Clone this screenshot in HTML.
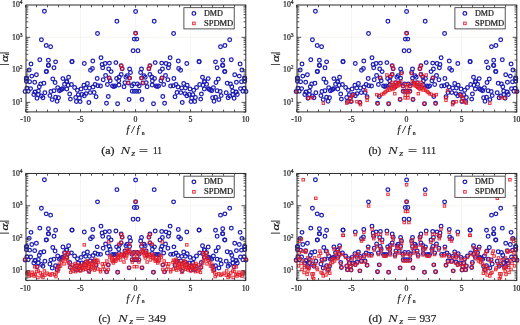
<!DOCTYPE html>
<html><head><meta charset="utf-8"><title>DMD vs SPDMD amplitudes</title>
<style>html,body{margin:0;padding:0;background:#fff}svg{display:block}text{font-family:"Liberation Serif","DejaVu Serif",serif;fill:#1c1c1c;stroke:#1c1c1c;stroke-width:.22px}.g line{stroke:#f0f0ec;stroke-width:.7px}.t line{stroke:#2a2a2a;stroke-width:.8px}.c circle{fill:none;stroke:#1e1eb4;stroke-width:1.25px}.s rect{fill:#f8a0b0;fill-opacity:.25;stroke:#de101c;stroke-opacity:.85;stroke-width:.95px}.f{fill:none;stroke:#2a2a2a;stroke-width:1px}.tk{font-size:7.8px}.sup{font-size:5.6px}.lg{font-size:7.6px}.xl{font-size:9.6px;font-style:italic}.yl{font-size:10px}.cap{font-size:11.3px}i,.i{font-style:italic}</style></head><body>
<svg width="520" height="325" viewBox="0 0 520 325">
<rect width="520" height="325" fill="#fff"/>
<g id="panel-a">
<g class="g">
<line x1="80.53" y1="4.8" x2="80.53" y2="112.15"/>
<line x1="135.55" y1="4.8" x2="135.55" y2="112.15"/>
<line x1="190.57" y1="4.8" x2="190.57" y2="112.15"/>
<line x1="25.5" y1="102.36" x2="245.6" y2="102.36"/>
<line x1="25.5" y1="69.84" x2="245.6" y2="69.84"/>
<line x1="25.5" y1="37.32" x2="245.6" y2="37.32"/>
</g>
<g class="c">
<circle cx="135.6" cy="11.5" r="1.85"/><circle cx="135.6" cy="33.3" r="1.85"/><circle cx="136.8" cy="39.1" r="1.85"/><circle cx="138" cy="50.8" r="1.85"/><circle cx="154.2" cy="21.2" r="1.85"/><circle cx="173.6" cy="33.4" r="1.85"/><circle cx="229.7" cy="39.8" r="1.85"/><circle cx="224.9" cy="45.4" r="1.85"/><circle cx="220.5" cy="46.7" r="1.85"/><circle cx="226.7" cy="11.25" r="1.85"/><circle cx="170.1" cy="57.7" r="1.85"/><circle cx="178.3" cy="61" r="1.85"/><circle cx="186.8" cy="63.5" r="1.85"/><circle cx="155.2" cy="62.6" r="1.85"/><circle cx="161.7" cy="63.1" r="1.85"/><circle cx="166" cy="63.4" r="1.85"/><circle cx="169" cy="64.5" r="1.85"/><circle cx="168.4" cy="67.8" r="1.85"/><circle cx="162.4" cy="69" r="1.85"/><circle cx="160" cy="71.6" r="1.85"/><circle cx="178.7" cy="68.5" r="1.85"/><circle cx="180.6" cy="70.3" r="1.85"/><circle cx="149.9" cy="65.6" r="1.85"/><circle cx="148.9" cy="68.8" r="1.85"/><circle cx="141.5" cy="69" r="1.85"/><circle cx="140.6" cy="72.5" r="1.85"/><circle cx="143.9" cy="75.8" r="1.85"/><circle cx="145.2" cy="77.2" r="1.85"/><circle cx="141.5" cy="78.1" r="1.85"/><circle cx="149.9" cy="74.5" r="1.85"/><circle cx="151.8" cy="76.9" r="1.85"/><circle cx="154.5" cy="78.4" r="1.85"/><circle cx="152.4" cy="80.8" r="1.85"/><circle cx="165.5" cy="75.5" r="1.85"/><circle cx="161.9" cy="78" r="1.85"/><circle cx="160.9" cy="80.8" r="1.85"/><circle cx="167.9" cy="79.8" r="1.85"/><circle cx="173.9" cy="78.4" r="1.85"/><circle cx="163.7" cy="84.5" r="1.85"/><circle cx="156" cy="86" r="1.85"/><circle cx="157.3" cy="86.4" r="1.85"/><circle cx="158.6" cy="86" r="1.85"/><circle cx="147.1" cy="86.8" r="1.85"/><circle cx="146.2" cy="82.6" r="1.85"/><circle cx="142.9" cy="82.9" r="1.85"/><circle cx="137.4" cy="84" r="1.85"/><circle cx="139.2" cy="85.8" r="1.85"/><circle cx="136.7" cy="91.3" r="1.85"/><circle cx="138.9" cy="91.3" r="1.85"/><circle cx="142" cy="99.4" r="1.85"/><circle cx="153.5" cy="103.7" r="1.85"/><circle cx="164.6" cy="103.2" r="1.85"/><circle cx="162.8" cy="96.4" r="1.85"/><circle cx="175" cy="96.8" r="1.85"/><circle cx="177" cy="92.5" r="1.85"/><circle cx="170.6" cy="85.9" r="1.85"/><circle cx="173.2" cy="85.8" r="1.85"/><circle cx="176" cy="84.5" r="1.85"/><circle cx="152.2" cy="84.9" r="1.85"/><circle cx="199" cy="61.5" r="1.85"/><circle cx="199.2" cy="61.7" r="1.85"/><circle cx="215.5" cy="61.85" r="1.85"/><circle cx="217.1" cy="67.8" r="1.85"/><circle cx="202.5" cy="77.25" r="1.85"/><circle cx="208.2" cy="78.6" r="1.85"/><circle cx="204.3" cy="81.4" r="1.85"/><circle cx="204.6" cy="81.6" r="1.85"/><circle cx="218.3" cy="79" r="1.85"/><circle cx="216" cy="82.5" r="1.85"/><circle cx="183.7" cy="83.5" r="1.85"/><circle cx="199.7" cy="84.4" r="1.85"/><circle cx="206.6" cy="84.2" r="1.85"/><circle cx="202.9" cy="85.2" r="1.85"/><circle cx="196.5" cy="87.5" r="1.85"/><circle cx="178" cy="87" r="1.85"/><circle cx="187.2" cy="85.2" r="1.85"/><circle cx="181.7" cy="87.9" r="1.85"/><circle cx="185.4" cy="87.9" r="1.85"/><circle cx="190" cy="88.9" r="1.85"/><circle cx="193.7" cy="90.2" r="1.85"/><circle cx="180.8" cy="92.6" r="1.85"/><circle cx="185" cy="93.6" r="1.85"/><circle cx="189.1" cy="94.4" r="1.85"/><circle cx="192.8" cy="94.6" r="1.85"/><circle cx="186.8" cy="95.8" r="1.85"/><circle cx="191.7" cy="98" r="1.85"/><circle cx="195.4" cy="97.5" r="1.85"/><circle cx="191" cy="101.6" r="1.85"/><circle cx="194.7" cy="101.4" r="1.85"/><circle cx="182.25" cy="102.4" r="1.85"/><circle cx="201.4" cy="94" r="1.85"/><circle cx="200.7" cy="99.1" r="1.85"/><circle cx="204.3" cy="88.9" r="1.85"/><circle cx="208.4" cy="88.7" r="1.85"/><circle cx="209.3" cy="89.2" r="1.85"/><circle cx="210.5" cy="90" r="1.85"/><circle cx="211.7" cy="90.7" r="1.85"/><circle cx="213.4" cy="87.6" r="1.85"/><circle cx="217.1" cy="90.7" r="1.85"/><circle cx="212.6" cy="97.7" r="1.85"/><circle cx="215.5" cy="97.2" r="1.85"/><circle cx="214" cy="101.3" r="1.85"/><circle cx="218.9" cy="99.6" r="1.85"/><circle cx="220.2" cy="91.4" r="1.85"/><circle cx="221.2" cy="95.6" r="1.85"/><circle cx="222.7" cy="60.3" r="1.85"/><circle cx="231.3" cy="59.7" r="1.85"/><circle cx="240.1" cy="63.9" r="1.85"/><circle cx="222.5" cy="65.2" r="1.85"/><circle cx="222.8" cy="65.4" r="1.85"/><circle cx="224.6" cy="71.4" r="1.85"/><circle cx="224.9" cy="71.6" r="1.85"/><circle cx="241.9" cy="69.9" r="1.85"/><circle cx="234.7" cy="74.75" r="1.85"/><circle cx="239.3" cy="76.1" r="1.85"/><circle cx="244.5" cy="78" r="1.85"/><circle cx="244.8" cy="78.4" r="1.85"/><circle cx="227.2" cy="83.3" r="1.85"/><circle cx="230.4" cy="84" r="1.85"/><circle cx="231.8" cy="86.8" r="1.85"/><circle cx="236.4" cy="82.2" r="1.85"/><circle cx="241.5" cy="81.7" r="1.85"/><circle cx="244.7" cy="81.2" r="1.85"/><circle cx="240.5" cy="88.6" r="1.85"/><circle cx="244.2" cy="88.2" r="1.85"/><circle cx="242.9" cy="91.3" r="1.85"/><circle cx="246" cy="91.5" r="1.85"/><circle cx="226.2" cy="92.7" r="1.85"/><circle cx="232.7" cy="90.9" r="1.85"/><circle cx="235.9" cy="91.9" r="1.85"/><circle cx="236.2" cy="92.1" r="1.85"/><circle cx="232.7" cy="94.55" r="1.85"/><circle cx="237.3" cy="94.55" r="1.85"/><circle cx="229.7" cy="96" r="1.85"/><circle cx="228.1" cy="97.7" r="1.85"/><circle cx="234.1" cy="98.25" r="1.85"/><circle cx="134.3" cy="39.1" r="1.85"/><circle cx="133.1" cy="50.8" r="1.85"/><circle cx="116.9" cy="21.2" r="1.85"/><circle cx="97.5" cy="33.4" r="1.85"/><circle cx="41.4" cy="39.8" r="1.85"/><circle cx="46.2" cy="45.4" r="1.85"/><circle cx="50.6" cy="46.7" r="1.85"/><circle cx="44.4" cy="11.25" r="1.85"/><circle cx="101" cy="57.7" r="1.85"/><circle cx="92.8" cy="61" r="1.85"/><circle cx="84.3" cy="63.5" r="1.85"/><circle cx="115.9" cy="62.6" r="1.85"/><circle cx="109.4" cy="63.1" r="1.85"/><circle cx="105.1" cy="63.4" r="1.85"/><circle cx="102.1" cy="64.5" r="1.85"/><circle cx="102.7" cy="67.8" r="1.85"/><circle cx="108.7" cy="69" r="1.85"/><circle cx="111.1" cy="71.6" r="1.85"/><circle cx="92.4" cy="68.5" r="1.85"/><circle cx="90.5" cy="70.3" r="1.85"/><circle cx="121.2" cy="65.6" r="1.85"/><circle cx="122.2" cy="68.8" r="1.85"/><circle cx="129.6" cy="69" r="1.85"/><circle cx="130.5" cy="72.5" r="1.85"/><circle cx="127.2" cy="75.8" r="1.85"/><circle cx="125.9" cy="77.2" r="1.85"/><circle cx="129.6" cy="78.1" r="1.85"/><circle cx="121.2" cy="74.5" r="1.85"/><circle cx="119.3" cy="76.9" r="1.85"/><circle cx="116.6" cy="78.4" r="1.85"/><circle cx="118.7" cy="80.8" r="1.85"/><circle cx="105.6" cy="75.5" r="1.85"/><circle cx="109.2" cy="78" r="1.85"/><circle cx="110.2" cy="80.8" r="1.85"/><circle cx="103.2" cy="79.8" r="1.85"/><circle cx="97.2" cy="78.4" r="1.85"/><circle cx="107.4" cy="84.5" r="1.85"/><circle cx="115.1" cy="86" r="1.85"/><circle cx="113.8" cy="86.4" r="1.85"/><circle cx="112.5" cy="86" r="1.85"/><circle cx="124" cy="86.8" r="1.85"/><circle cx="124.9" cy="82.6" r="1.85"/><circle cx="128.2" cy="82.9" r="1.85"/><circle cx="133.7" cy="84" r="1.85"/><circle cx="131.9" cy="85.8" r="1.85"/><circle cx="134.4" cy="91.3" r="1.85"/><circle cx="132.2" cy="91.3" r="1.85"/><circle cx="129.1" cy="99.4" r="1.85"/><circle cx="117.6" cy="103.7" r="1.85"/><circle cx="106.5" cy="103.2" r="1.85"/><circle cx="108.3" cy="96.4" r="1.85"/><circle cx="96.1" cy="96.8" r="1.85"/><circle cx="94.1" cy="92.5" r="1.85"/><circle cx="100.5" cy="85.9" r="1.85"/><circle cx="97.9" cy="85.8" r="1.85"/><circle cx="95.1" cy="84.5" r="1.85"/><circle cx="118.9" cy="84.9" r="1.85"/><circle cx="72.1" cy="61.5" r="1.85"/><circle cx="71.9" cy="61.7" r="1.85"/><circle cx="55.6" cy="61.85" r="1.85"/><circle cx="54" cy="67.8" r="1.85"/><circle cx="68.6" cy="77.25" r="1.85"/><circle cx="62.9" cy="78.6" r="1.85"/><circle cx="66.8" cy="81.4" r="1.85"/><circle cx="66.5" cy="81.6" r="1.85"/><circle cx="52.8" cy="79" r="1.85"/><circle cx="55.1" cy="82.5" r="1.85"/><circle cx="87.4" cy="83.5" r="1.85"/><circle cx="71.4" cy="84.4" r="1.85"/><circle cx="64.5" cy="84.2" r="1.85"/><circle cx="68.2" cy="85.2" r="1.85"/><circle cx="74.6" cy="87.5" r="1.85"/><circle cx="93.1" cy="87" r="1.85"/><circle cx="83.9" cy="85.2" r="1.85"/><circle cx="89.4" cy="87.9" r="1.85"/><circle cx="85.7" cy="87.9" r="1.85"/><circle cx="81.1" cy="88.9" r="1.85"/><circle cx="77.4" cy="90.2" r="1.85"/><circle cx="90.3" cy="92.6" r="1.85"/><circle cx="86.1" cy="93.6" r="1.85"/><circle cx="82" cy="94.4" r="1.85"/><circle cx="78.3" cy="94.6" r="1.85"/><circle cx="84.3" cy="95.8" r="1.85"/><circle cx="79.4" cy="98" r="1.85"/><circle cx="75.7" cy="97.5" r="1.85"/><circle cx="80.1" cy="101.6" r="1.85"/><circle cx="76.4" cy="101.4" r="1.85"/><circle cx="88.85" cy="102.4" r="1.85"/><circle cx="69.7" cy="94" r="1.85"/><circle cx="70.4" cy="99.1" r="1.85"/><circle cx="66.8" cy="88.9" r="1.85"/><circle cx="62.7" cy="88.7" r="1.85"/><circle cx="61.8" cy="89.2" r="1.85"/><circle cx="60.6" cy="90" r="1.85"/><circle cx="59.4" cy="90.7" r="1.85"/><circle cx="57.7" cy="87.6" r="1.85"/><circle cx="54" cy="90.7" r="1.85"/><circle cx="58.5" cy="97.7" r="1.85"/><circle cx="55.6" cy="97.2" r="1.85"/><circle cx="57.1" cy="101.3" r="1.85"/><circle cx="52.2" cy="99.6" r="1.85"/><circle cx="50.9" cy="91.4" r="1.85"/><circle cx="49.9" cy="95.6" r="1.85"/><circle cx="48.4" cy="60.3" r="1.85"/><circle cx="39.8" cy="59.7" r="1.85"/><circle cx="31" cy="63.9" r="1.85"/><circle cx="48.6" cy="65.2" r="1.85"/><circle cx="48.3" cy="65.4" r="1.85"/><circle cx="46.5" cy="71.4" r="1.85"/><circle cx="46.2" cy="71.6" r="1.85"/><circle cx="29.2" cy="69.9" r="1.85"/><circle cx="36.4" cy="74.75" r="1.85"/><circle cx="31.8" cy="76.1" r="1.85"/><circle cx="26.6" cy="78" r="1.85"/><circle cx="26.3" cy="78.4" r="1.85"/><circle cx="43.9" cy="83.3" r="1.85"/><circle cx="40.7" cy="84" r="1.85"/><circle cx="39.3" cy="86.8" r="1.85"/><circle cx="34.7" cy="82.2" r="1.85"/><circle cx="29.6" cy="81.7" r="1.85"/><circle cx="26.4" cy="81.2" r="1.85"/><circle cx="30.6" cy="88.6" r="1.85"/><circle cx="26.9" cy="88.2" r="1.85"/><circle cx="28.2" cy="91.3" r="1.85"/><circle cx="25.1" cy="91.5" r="1.85"/><circle cx="44.9" cy="92.7" r="1.85"/><circle cx="38.4" cy="90.9" r="1.85"/><circle cx="35.2" cy="91.9" r="1.85"/><circle cx="34.9" cy="92.1" r="1.85"/><circle cx="38.4" cy="94.55" r="1.85"/><circle cx="33.8" cy="94.55" r="1.85"/><circle cx="41.4" cy="96" r="1.85"/><circle cx="43" cy="97.7" r="1.85"/><circle cx="37" cy="98.25" r="1.85"/>
</g>
<g class="s">
<rect x="134.35" y="32.05" width="2.5" height="2.5"/><rect x="148.65" y="64.35" width="2.5" height="2.5"/><rect x="147.65" y="67.55" width="2.5" height="2.5"/><rect x="140.25" y="76.85" width="2.5" height="2.5"/><rect x="160.65" y="76.75" width="2.5" height="2.5"/><rect x="141.65" y="81.65" width="2.5" height="2.5"/><rect x="119.95" y="64.35" width="2.5" height="2.5"/><rect x="120.95" y="67.55" width="2.5" height="2.5"/><rect x="128.35" y="76.85" width="2.5" height="2.5"/><rect x="107.95" y="76.75" width="2.5" height="2.5"/><rect x="126.95" y="81.65" width="2.5" height="2.5"/>
</g>
<g class="t">
<line x1="25.5" y1="111.9" x2="25.5" y2="109.2"/><line x1="25.5" y1="5" x2="25.5" y2="7.7"/>
<line x1="36.51" y1="111.9" x2="36.51" y2="109.6"/><line x1="36.51" y1="5" x2="36.51" y2="7.3"/>
<line x1="47.51" y1="111.9" x2="47.51" y2="109.6"/><line x1="47.51" y1="5" x2="47.51" y2="7.3"/>
<line x1="58.52" y1="111.9" x2="58.52" y2="109.6"/><line x1="58.52" y1="5" x2="58.52" y2="7.3"/>
<line x1="69.52" y1="111.9" x2="69.52" y2="109.6"/><line x1="69.52" y1="5" x2="69.52" y2="7.3"/>
<line x1="80.53" y1="111.9" x2="80.53" y2="109.2"/><line x1="80.53" y1="5" x2="80.53" y2="7.7"/>
<line x1="91.53" y1="111.9" x2="91.53" y2="109.6"/><line x1="91.53" y1="5" x2="91.53" y2="7.3"/>
<line x1="102.53" y1="111.9" x2="102.53" y2="109.6"/><line x1="102.53" y1="5" x2="102.53" y2="7.3"/>
<line x1="113.54" y1="111.9" x2="113.54" y2="109.6"/><line x1="113.54" y1="5" x2="113.54" y2="7.3"/>
<line x1="124.55" y1="111.9" x2="124.55" y2="109.6"/><line x1="124.55" y1="5" x2="124.55" y2="7.3"/>
<line x1="135.55" y1="111.9" x2="135.55" y2="109.2"/><line x1="135.55" y1="5" x2="135.55" y2="7.7"/>
<line x1="146.56" y1="111.9" x2="146.56" y2="109.6"/><line x1="146.56" y1="5" x2="146.56" y2="7.3"/>
<line x1="157.56" y1="111.9" x2="157.56" y2="109.6"/><line x1="157.56" y1="5" x2="157.56" y2="7.3"/>
<line x1="168.56" y1="111.9" x2="168.56" y2="109.6"/><line x1="168.56" y1="5" x2="168.56" y2="7.3"/>
<line x1="179.57" y1="111.9" x2="179.57" y2="109.6"/><line x1="179.57" y1="5" x2="179.57" y2="7.3"/>
<line x1="190.57" y1="111.9" x2="190.57" y2="109.2"/><line x1="190.57" y1="5" x2="190.57" y2="7.7"/>
<line x1="201.58" y1="111.9" x2="201.58" y2="109.6"/><line x1="201.58" y1="5" x2="201.58" y2="7.3"/>
<line x1="212.58" y1="111.9" x2="212.58" y2="109.6"/><line x1="212.58" y1="5" x2="212.58" y2="7.3"/>
<line x1="223.59" y1="111.9" x2="223.59" y2="109.6"/><line x1="223.59" y1="5" x2="223.59" y2="7.3"/>
<line x1="234.59" y1="111.9" x2="234.59" y2="109.6"/><line x1="234.59" y1="5" x2="234.59" y2="7.3"/>
<line x1="245.6" y1="111.9" x2="245.6" y2="109.2"/><line x1="245.6" y1="5" x2="245.6" y2="7.7"/>
<line x1="26" y1="112.15" x2="28.3" y2="112.15"/><line x1="245.8" y1="112.15" x2="243.5" y2="112.15"/>
<line x1="26" y1="109.58" x2="28.3" y2="109.58"/><line x1="245.8" y1="109.58" x2="243.5" y2="109.58"/>
<line x1="26" y1="107.4" x2="28.3" y2="107.4"/><line x1="245.8" y1="107.4" x2="243.5" y2="107.4"/>
<line x1="26" y1="105.51" x2="28.3" y2="105.51"/><line x1="245.8" y1="105.51" x2="243.5" y2="105.51"/>
<line x1="26" y1="103.85" x2="28.3" y2="103.85"/><line x1="245.8" y1="103.85" x2="243.5" y2="103.85"/>
<line x1="26" y1="102.36" x2="30.2" y2="102.36"/><line x1="245.8" y1="102.36" x2="241.6" y2="102.36"/>
<line x1="26" y1="92.57" x2="28.3" y2="92.57"/><line x1="245.8" y1="92.57" x2="243.5" y2="92.57"/>
<line x1="26" y1="86.84" x2="28.3" y2="86.84"/><line x1="245.8" y1="86.84" x2="243.5" y2="86.84"/>
<line x1="26" y1="82.78" x2="28.3" y2="82.78"/><line x1="245.8" y1="82.78" x2="243.5" y2="82.78"/>
<line x1="26" y1="79.63" x2="28.3" y2="79.63"/><line x1="245.8" y1="79.63" x2="243.5" y2="79.63"/>
<line x1="26" y1="77.05" x2="28.3" y2="77.05"/><line x1="245.8" y1="77.05" x2="243.5" y2="77.05"/>
<line x1="26" y1="74.88" x2="28.3" y2="74.88"/><line x1="245.8" y1="74.88" x2="243.5" y2="74.88"/>
<line x1="26" y1="72.99" x2="28.3" y2="72.99"/><line x1="245.8" y1="72.99" x2="243.5" y2="72.99"/>
<line x1="26" y1="71.33" x2="28.3" y2="71.33"/><line x1="245.8" y1="71.33" x2="243.5" y2="71.33"/>
<line x1="26" y1="69.84" x2="30.2" y2="69.84"/><line x1="245.8" y1="69.84" x2="241.6" y2="69.84"/>
<line x1="26" y1="60.05" x2="28.3" y2="60.05"/><line x1="245.8" y1="60.05" x2="243.5" y2="60.05"/>
<line x1="26" y1="54.32" x2="28.3" y2="54.32"/><line x1="245.8" y1="54.32" x2="243.5" y2="54.32"/>
<line x1="26" y1="50.26" x2="28.3" y2="50.26"/><line x1="245.8" y1="50.26" x2="243.5" y2="50.26"/>
<line x1="26" y1="47.11" x2="28.3" y2="47.11"/><line x1="245.8" y1="47.11" x2="243.5" y2="47.11"/>
<line x1="26" y1="44.53" x2="28.3" y2="44.53"/><line x1="245.8" y1="44.53" x2="243.5" y2="44.53"/>
<line x1="26" y1="42.36" x2="28.3" y2="42.36"/><line x1="245.8" y1="42.36" x2="243.5" y2="42.36"/>
<line x1="26" y1="40.47" x2="28.3" y2="40.47"/><line x1="245.8" y1="40.47" x2="243.5" y2="40.47"/>
<line x1="26" y1="38.81" x2="28.3" y2="38.81"/><line x1="245.8" y1="38.81" x2="243.5" y2="38.81"/>
<line x1="26" y1="37.32" x2="30.2" y2="37.32"/><line x1="245.8" y1="37.32" x2="241.6" y2="37.32"/>
<line x1="26" y1="27.53" x2="28.3" y2="27.53"/><line x1="245.8" y1="27.53" x2="243.5" y2="27.53"/>
<line x1="26" y1="21.8" x2="28.3" y2="21.8"/><line x1="245.8" y1="21.8" x2="243.5" y2="21.8"/>
<line x1="26" y1="17.74" x2="28.3" y2="17.74"/><line x1="245.8" y1="17.74" x2="243.5" y2="17.74"/>
<line x1="26" y1="14.59" x2="28.3" y2="14.59"/><line x1="245.8" y1="14.59" x2="243.5" y2="14.59"/>
<line x1="26" y1="12.01" x2="28.3" y2="12.01"/><line x1="245.8" y1="12.01" x2="243.5" y2="12.01"/>
<line x1="26" y1="9.84" x2="28.3" y2="9.84"/><line x1="245.8" y1="9.84" x2="243.5" y2="9.84"/>
<line x1="26" y1="7.95" x2="28.3" y2="7.95"/><line x1="245.8" y1="7.95" x2="243.5" y2="7.95"/>
<line x1="26" y1="6.29" x2="28.3" y2="6.29"/><line x1="245.8" y1="6.29" x2="243.5" y2="6.29"/>
</g>
<rect class="f" x="26" y="5" width="219.8" height="106.9"/>
<rect x="183.9" y="7.7" width="50.3" height="21.2" fill="#fff" stroke="#2a2a2a" stroke-width=".8"/>
<g class="c"><circle cx="193.9" cy="13.4" r="1.85"/></g>
<g class="s"><rect x="192.6" y="22.1" width="2.6" height="2.6"/></g>
<text class="lg" x="203.9" y="16" textLength="19" lengthAdjust="spacingAndGlyphs">DMD</text>
<text class="lg" x="203.9" y="26" textLength="29.4" lengthAdjust="spacingAndGlyphs">SPDMD</text>
<text class="tk" x="22.6" y="104.66" text-anchor="end">10<tspan class="sup" dy="-2.9">1</tspan></text>
<text class="tk" x="22.6" y="72.14" text-anchor="end">10<tspan class="sup" dy="-2.9">2</tspan></text>
<text class="tk" x="22.6" y="39.62" text-anchor="end">10<tspan class="sup" dy="-2.9">3</tspan></text>
<text class="tk" x="22.6" y="7.1" text-anchor="end">10<tspan class="sup" dy="-2.9">4</tspan></text>
<text class="tk" x="25.5" y="122.05" text-anchor="middle">-10</text>
<text class="tk" x="80.53" y="122.05" text-anchor="middle">-5</text>
<text class="tk" x="135.55" y="122.05" text-anchor="middle">0</text>
<text class="tk" x="190.57" y="122.05" text-anchor="middle">5</text>
<text class="tk" x="245.6" y="122.05" text-anchor="middle">10</text>
<text class="xl" x="126.55" y="133.35" textLength="18" lengthAdjust="spacing">f/f<tspan dy="1.4" font-size="5.6" font-style="normal">n</tspan></text>
<text class="yl" transform="translate(7.6,58.48) rotate(-90)"><tspan x="-7.3" dy="-0.8" font-size="11">|</tspan><tspan class="i" x="-3.5" dy="0.8" textLength="7" lengthAdjust="spacingAndGlyphs">α</tspan><tspan class="i" font-size="6" x="3.2" dy="1.6">i</tspan><tspan x="4.6" dy="-2.4" font-size="11">|</tspan></text>
<text class="cap" y="153.8"><tspan x="101.2" textLength="13.4" lengthAdjust="spacingAndGlyphs">(a)</tspan><tspan class="i" stroke-width=".05" x="120.4" textLength="9.8" lengthAdjust="spacingAndGlyphs">N</tspan><tspan class="i" stroke-width=".1" x="131.3" dy="1.9" font-size="8" textLength="4" lengthAdjust="spacingAndGlyphs">z</tspan><tspan x="138.9" dy="-1.9" textLength="9" lengthAdjust="spacingAndGlyphs">=</tspan><tspan x="152.9" textLength="9.0" lengthAdjust="spacingAndGlyphs">11</tspan></text>
</g>
<g id="panel-b">
<g class="g">
<line x1="351.52" y1="4.8" x2="351.52" y2="112.15"/>
<line x1="406.55" y1="4.8" x2="406.55" y2="112.15"/>
<line x1="461.58" y1="4.8" x2="461.58" y2="112.15"/>
<line x1="296.5" y1="102.36" x2="516.6" y2="102.36"/>
<line x1="296.5" y1="69.84" x2="516.6" y2="69.84"/>
<line x1="296.5" y1="37.32" x2="516.6" y2="37.32"/>
</g>
<g class="c">
<circle cx="406.6" cy="11.5" r="1.85"/><circle cx="406.6" cy="33.3" r="1.85"/><circle cx="407.8" cy="39.1" r="1.85"/><circle cx="409" cy="50.8" r="1.85"/><circle cx="425.2" cy="21.2" r="1.85"/><circle cx="444.6" cy="33.4" r="1.85"/><circle cx="500.7" cy="39.8" r="1.85"/><circle cx="495.9" cy="45.4" r="1.85"/><circle cx="491.5" cy="46.7" r="1.85"/><circle cx="497.7" cy="11.25" r="1.85"/><circle cx="441.1" cy="57.7" r="1.85"/><circle cx="449.3" cy="61" r="1.85"/><circle cx="457.8" cy="63.5" r="1.85"/><circle cx="426.2" cy="62.6" r="1.85"/><circle cx="432.7" cy="63.1" r="1.85"/><circle cx="437" cy="63.4" r="1.85"/><circle cx="440" cy="64.5" r="1.85"/><circle cx="439.4" cy="67.8" r="1.85"/><circle cx="433.4" cy="69" r="1.85"/><circle cx="431" cy="71.6" r="1.85"/><circle cx="449.7" cy="68.5" r="1.85"/><circle cx="451.6" cy="70.3" r="1.85"/><circle cx="420.9" cy="65.6" r="1.85"/><circle cx="419.9" cy="68.8" r="1.85"/><circle cx="412.5" cy="69" r="1.85"/><circle cx="411.6" cy="72.5" r="1.85"/><circle cx="414.9" cy="75.8" r="1.85"/><circle cx="416.2" cy="77.2" r="1.85"/><circle cx="412.5" cy="78.1" r="1.85"/><circle cx="420.9" cy="74.5" r="1.85"/><circle cx="422.8" cy="76.9" r="1.85"/><circle cx="425.5" cy="78.4" r="1.85"/><circle cx="423.4" cy="80.8" r="1.85"/><circle cx="436.5" cy="75.5" r="1.85"/><circle cx="432.9" cy="78" r="1.85"/><circle cx="431.9" cy="80.8" r="1.85"/><circle cx="438.9" cy="79.8" r="1.85"/><circle cx="444.9" cy="78.4" r="1.85"/><circle cx="434.7" cy="84.5" r="1.85"/><circle cx="427" cy="86" r="1.85"/><circle cx="428.3" cy="86.4" r="1.85"/><circle cx="429.6" cy="86" r="1.85"/><circle cx="418.1" cy="86.8" r="1.85"/><circle cx="417.2" cy="82.6" r="1.85"/><circle cx="413.9" cy="82.9" r="1.85"/><circle cx="408.4" cy="84" r="1.85"/><circle cx="410.2" cy="85.8" r="1.85"/><circle cx="407.7" cy="91.3" r="1.85"/><circle cx="409.9" cy="91.3" r="1.85"/><circle cx="413" cy="99.4" r="1.85"/><circle cx="424.5" cy="103.7" r="1.85"/><circle cx="435.6" cy="103.2" r="1.85"/><circle cx="433.8" cy="96.4" r="1.85"/><circle cx="446" cy="96.8" r="1.85"/><circle cx="448" cy="92.5" r="1.85"/><circle cx="441.6" cy="85.9" r="1.85"/><circle cx="444.2" cy="85.8" r="1.85"/><circle cx="447" cy="84.5" r="1.85"/><circle cx="423.2" cy="84.9" r="1.85"/><circle cx="470" cy="61.5" r="1.85"/><circle cx="470.2" cy="61.7" r="1.85"/><circle cx="486.5" cy="61.85" r="1.85"/><circle cx="488.1" cy="67.8" r="1.85"/><circle cx="473.5" cy="77.25" r="1.85"/><circle cx="479.2" cy="78.6" r="1.85"/><circle cx="475.3" cy="81.4" r="1.85"/><circle cx="475.6" cy="81.6" r="1.85"/><circle cx="489.3" cy="79" r="1.85"/><circle cx="487" cy="82.5" r="1.85"/><circle cx="454.7" cy="83.5" r="1.85"/><circle cx="470.7" cy="84.4" r="1.85"/><circle cx="477.6" cy="84.2" r="1.85"/><circle cx="473.9" cy="85.2" r="1.85"/><circle cx="467.5" cy="87.5" r="1.85"/><circle cx="449" cy="87" r="1.85"/><circle cx="458.2" cy="85.2" r="1.85"/><circle cx="452.7" cy="87.9" r="1.85"/><circle cx="456.4" cy="87.9" r="1.85"/><circle cx="461" cy="88.9" r="1.85"/><circle cx="464.7" cy="90.2" r="1.85"/><circle cx="451.8" cy="92.6" r="1.85"/><circle cx="456" cy="93.6" r="1.85"/><circle cx="460.1" cy="94.4" r="1.85"/><circle cx="463.8" cy="94.6" r="1.85"/><circle cx="457.8" cy="95.8" r="1.85"/><circle cx="462.7" cy="98" r="1.85"/><circle cx="466.4" cy="97.5" r="1.85"/><circle cx="462" cy="101.6" r="1.85"/><circle cx="465.7" cy="101.4" r="1.85"/><circle cx="453.25" cy="102.4" r="1.85"/><circle cx="472.4" cy="94" r="1.85"/><circle cx="471.7" cy="99.1" r="1.85"/><circle cx="475.3" cy="88.9" r="1.85"/><circle cx="479.4" cy="88.7" r="1.85"/><circle cx="480.3" cy="89.2" r="1.85"/><circle cx="481.5" cy="90" r="1.85"/><circle cx="482.7" cy="90.7" r="1.85"/><circle cx="484.4" cy="87.6" r="1.85"/><circle cx="488.1" cy="90.7" r="1.85"/><circle cx="483.6" cy="97.7" r="1.85"/><circle cx="486.5" cy="97.2" r="1.85"/><circle cx="485" cy="101.3" r="1.85"/><circle cx="489.9" cy="99.6" r="1.85"/><circle cx="491.2" cy="91.4" r="1.85"/><circle cx="492.2" cy="95.6" r="1.85"/><circle cx="493.7" cy="60.3" r="1.85"/><circle cx="502.3" cy="59.7" r="1.85"/><circle cx="511.1" cy="63.9" r="1.85"/><circle cx="493.5" cy="65.2" r="1.85"/><circle cx="493.8" cy="65.4" r="1.85"/><circle cx="495.6" cy="71.4" r="1.85"/><circle cx="495.9" cy="71.6" r="1.85"/><circle cx="512.9" cy="69.9" r="1.85"/><circle cx="505.7" cy="74.75" r="1.85"/><circle cx="510.3" cy="76.1" r="1.85"/><circle cx="515.5" cy="78" r="1.85"/><circle cx="515.8" cy="78.4" r="1.85"/><circle cx="498.2" cy="83.3" r="1.85"/><circle cx="501.4" cy="84" r="1.85"/><circle cx="502.8" cy="86.8" r="1.85"/><circle cx="507.4" cy="82.2" r="1.85"/><circle cx="512.5" cy="81.7" r="1.85"/><circle cx="515.7" cy="81.2" r="1.85"/><circle cx="511.5" cy="88.6" r="1.85"/><circle cx="515.2" cy="88.2" r="1.85"/><circle cx="513.9" cy="91.3" r="1.85"/><circle cx="517" cy="91.5" r="1.85"/><circle cx="497.2" cy="92.7" r="1.85"/><circle cx="503.7" cy="90.9" r="1.85"/><circle cx="506.9" cy="91.9" r="1.85"/><circle cx="507.2" cy="92.1" r="1.85"/><circle cx="503.7" cy="94.55" r="1.85"/><circle cx="508.3" cy="94.55" r="1.85"/><circle cx="500.7" cy="96" r="1.85"/><circle cx="499.1" cy="97.7" r="1.85"/><circle cx="505.1" cy="98.25" r="1.85"/><circle cx="405.3" cy="39.1" r="1.85"/><circle cx="404.1" cy="50.8" r="1.85"/><circle cx="387.9" cy="21.2" r="1.85"/><circle cx="368.5" cy="33.4" r="1.85"/><circle cx="312.4" cy="39.8" r="1.85"/><circle cx="317.2" cy="45.4" r="1.85"/><circle cx="321.6" cy="46.7" r="1.85"/><circle cx="315.4" cy="11.25" r="1.85"/><circle cx="372" cy="57.7" r="1.85"/><circle cx="363.8" cy="61" r="1.85"/><circle cx="355.3" cy="63.5" r="1.85"/><circle cx="386.9" cy="62.6" r="1.85"/><circle cx="380.4" cy="63.1" r="1.85"/><circle cx="376.1" cy="63.4" r="1.85"/><circle cx="373.1" cy="64.5" r="1.85"/><circle cx="373.7" cy="67.8" r="1.85"/><circle cx="379.7" cy="69" r="1.85"/><circle cx="382.1" cy="71.6" r="1.85"/><circle cx="363.4" cy="68.5" r="1.85"/><circle cx="361.5" cy="70.3" r="1.85"/><circle cx="392.2" cy="65.6" r="1.85"/><circle cx="393.2" cy="68.8" r="1.85"/><circle cx="400.6" cy="69" r="1.85"/><circle cx="401.5" cy="72.5" r="1.85"/><circle cx="398.2" cy="75.8" r="1.85"/><circle cx="396.9" cy="77.2" r="1.85"/><circle cx="400.6" cy="78.1" r="1.85"/><circle cx="392.2" cy="74.5" r="1.85"/><circle cx="390.3" cy="76.9" r="1.85"/><circle cx="387.6" cy="78.4" r="1.85"/><circle cx="389.7" cy="80.8" r="1.85"/><circle cx="376.6" cy="75.5" r="1.85"/><circle cx="380.2" cy="78" r="1.85"/><circle cx="381.2" cy="80.8" r="1.85"/><circle cx="374.2" cy="79.8" r="1.85"/><circle cx="368.2" cy="78.4" r="1.85"/><circle cx="378.4" cy="84.5" r="1.85"/><circle cx="386.1" cy="86" r="1.85"/><circle cx="384.8" cy="86.4" r="1.85"/><circle cx="383.5" cy="86" r="1.85"/><circle cx="395" cy="86.8" r="1.85"/><circle cx="395.9" cy="82.6" r="1.85"/><circle cx="399.2" cy="82.9" r="1.85"/><circle cx="404.7" cy="84" r="1.85"/><circle cx="402.9" cy="85.8" r="1.85"/><circle cx="405.4" cy="91.3" r="1.85"/><circle cx="403.2" cy="91.3" r="1.85"/><circle cx="400.1" cy="99.4" r="1.85"/><circle cx="388.6" cy="103.7" r="1.85"/><circle cx="377.5" cy="103.2" r="1.85"/><circle cx="379.3" cy="96.4" r="1.85"/><circle cx="367.1" cy="96.8" r="1.85"/><circle cx="365.1" cy="92.5" r="1.85"/><circle cx="371.5" cy="85.9" r="1.85"/><circle cx="368.9" cy="85.8" r="1.85"/><circle cx="366.1" cy="84.5" r="1.85"/><circle cx="389.9" cy="84.9" r="1.85"/><circle cx="343.1" cy="61.5" r="1.85"/><circle cx="342.9" cy="61.7" r="1.85"/><circle cx="326.6" cy="61.85" r="1.85"/><circle cx="325" cy="67.8" r="1.85"/><circle cx="339.6" cy="77.25" r="1.85"/><circle cx="333.9" cy="78.6" r="1.85"/><circle cx="337.8" cy="81.4" r="1.85"/><circle cx="337.5" cy="81.6" r="1.85"/><circle cx="323.8" cy="79" r="1.85"/><circle cx="326.1" cy="82.5" r="1.85"/><circle cx="358.4" cy="83.5" r="1.85"/><circle cx="342.4" cy="84.4" r="1.85"/><circle cx="335.5" cy="84.2" r="1.85"/><circle cx="339.2" cy="85.2" r="1.85"/><circle cx="345.6" cy="87.5" r="1.85"/><circle cx="364.1" cy="87" r="1.85"/><circle cx="354.9" cy="85.2" r="1.85"/><circle cx="360.4" cy="87.9" r="1.85"/><circle cx="356.7" cy="87.9" r="1.85"/><circle cx="352.1" cy="88.9" r="1.85"/><circle cx="348.4" cy="90.2" r="1.85"/><circle cx="361.3" cy="92.6" r="1.85"/><circle cx="357.1" cy="93.6" r="1.85"/><circle cx="353" cy="94.4" r="1.85"/><circle cx="349.3" cy="94.6" r="1.85"/><circle cx="355.3" cy="95.8" r="1.85"/><circle cx="350.4" cy="98" r="1.85"/><circle cx="346.7" cy="97.5" r="1.85"/><circle cx="351.1" cy="101.6" r="1.85"/><circle cx="347.4" cy="101.4" r="1.85"/><circle cx="359.85" cy="102.4" r="1.85"/><circle cx="340.7" cy="94" r="1.85"/><circle cx="341.4" cy="99.1" r="1.85"/><circle cx="337.8" cy="88.9" r="1.85"/><circle cx="333.7" cy="88.7" r="1.85"/><circle cx="332.8" cy="89.2" r="1.85"/><circle cx="331.6" cy="90" r="1.85"/><circle cx="330.4" cy="90.7" r="1.85"/><circle cx="328.7" cy="87.6" r="1.85"/><circle cx="325" cy="90.7" r="1.85"/><circle cx="329.5" cy="97.7" r="1.85"/><circle cx="326.6" cy="97.2" r="1.85"/><circle cx="328.1" cy="101.3" r="1.85"/><circle cx="323.2" cy="99.6" r="1.85"/><circle cx="321.9" cy="91.4" r="1.85"/><circle cx="320.9" cy="95.6" r="1.85"/><circle cx="319.4" cy="60.3" r="1.85"/><circle cx="310.8" cy="59.7" r="1.85"/><circle cx="302" cy="63.9" r="1.85"/><circle cx="319.6" cy="65.2" r="1.85"/><circle cx="319.3" cy="65.4" r="1.85"/><circle cx="317.5" cy="71.4" r="1.85"/><circle cx="317.2" cy="71.6" r="1.85"/><circle cx="300.2" cy="69.9" r="1.85"/><circle cx="307.4" cy="74.75" r="1.85"/><circle cx="302.8" cy="76.1" r="1.85"/><circle cx="297.6" cy="78" r="1.85"/><circle cx="297.3" cy="78.4" r="1.85"/><circle cx="314.9" cy="83.3" r="1.85"/><circle cx="311.7" cy="84" r="1.85"/><circle cx="310.3" cy="86.8" r="1.85"/><circle cx="305.7" cy="82.2" r="1.85"/><circle cx="300.6" cy="81.7" r="1.85"/><circle cx="297.4" cy="81.2" r="1.85"/><circle cx="301.6" cy="88.6" r="1.85"/><circle cx="297.9" cy="88.2" r="1.85"/><circle cx="299.2" cy="91.3" r="1.85"/><circle cx="296.1" cy="91.5" r="1.85"/><circle cx="315.9" cy="92.7" r="1.85"/><circle cx="309.4" cy="90.9" r="1.85"/><circle cx="306.2" cy="91.9" r="1.85"/><circle cx="305.9" cy="92.1" r="1.85"/><circle cx="309.4" cy="94.55" r="1.85"/><circle cx="304.8" cy="94.55" r="1.85"/><circle cx="312.4" cy="96" r="1.85"/><circle cx="314" cy="97.7" r="1.85"/><circle cx="308" cy="98.25" r="1.85"/>
</g>
<g class="s">
<rect x="405.35" y="32.05" width="2.5" height="2.5"/><rect x="405.35" y="86.75" width="2.5" height="2.5"/><rect x="419.65" y="64.35" width="2.5" height="2.5"/><rect x="418.65" y="67.55" width="2.5" height="2.5"/><rect x="431.45" y="76.35" width="2.5" height="2.5"/><rect x="410.25" y="72.25" width="2.5" height="2.5"/><rect x="419.55" y="72.95" width="2.5" height="2.5"/><rect x="421.35" y="75.15" width="2.5" height="2.5"/><rect x="424.95" y="73.75" width="2.5" height="2.5"/><rect x="411.05" y="80.15" width="2.5" height="2.5"/><rect x="413.35" y="81.35" width="2.5" height="2.5"/><rect x="416.55" y="81.25" width="2.5" height="2.5"/><rect x="419.95" y="81.15" width="2.5" height="2.5"/><rect x="413.85" y="84.55" width="2.5" height="2.5"/><rect x="416.55" y="85.95" width="2.5" height="2.5"/><rect x="421.25" y="85.05" width="2.5" height="2.5"/><rect x="423.05" y="87.35" width="2.5" height="2.5"/><rect x="418.95" y="88.25" width="2.5" height="2.5"/><rect x="425.85" y="90.15" width="2.5" height="2.5"/><rect x="428.15" y="92.45" width="2.5" height="2.5"/><rect x="417.05" y="92.45" width="2.5" height="2.5"/><rect x="432.35" y="94.25" width="2.5" height="2.5"/><rect x="435.05" y="93.35" width="2.5" height="2.5"/><rect x="420.35" y="83.35" width="2.5" height="2.5"/><rect x="406.75" y="83.25" width="2.5" height="2.5"/><rect x="408.75" y="85.25" width="2.5" height="2.5"/><rect x="406.55" y="90.25" width="2.5" height="2.5"/><rect x="408.65" y="90.25" width="2.5" height="2.5"/><rect x="406.55" y="93.85" width="2.5" height="2.5"/><rect x="406.75" y="96.65" width="2.5" height="2.5"/><rect x="411.75" y="98.05" width="2.5" height="2.5"/><rect x="423.05" y="102.35" width="2.5" height="2.5"/><rect x="434.15" y="102.35" width="2.5" height="2.5"/><rect x="444.75" y="96.25" width="2.5" height="2.5"/><rect x="444.75" y="98.95" width="2.5" height="2.5"/><rect x="446.25" y="89.25" width="2.5" height="2.5"/><rect x="451.75" y="101.15" width="2.5" height="2.5"/><rect x="451.35" y="103.35" width="2.5" height="2.5"/><rect x="454.95" y="100.45" width="2.5" height="2.5"/><rect x="458.65" y="93.55" width="2.5" height="2.5"/><rect x="460.45" y="94.95" width="2.5" height="2.5"/><rect x="461.85" y="97.25" width="2.5" height="2.5"/><rect x="460.15" y="100.15" width="2.5" height="2.5"/><rect x="463.65" y="100.65" width="2.5" height="2.5"/><rect x="465.05" y="101.85" width="2.5" height="2.5"/><rect x="488.55" y="101.95" width="2.5" height="2.5"/><rect x="499.65" y="96.45" width="2.5" height="2.5"/><rect x="503.35" y="96.85" width="2.5" height="2.5"/><rect x="515.05" y="90.45" width="2.5" height="2.5"/><rect x="412.35" y="82.55" width="2.5" height="2.5"/><rect x="415.15" y="83.15" width="2.5" height="2.5"/><rect x="417.95" y="84.75" width="2.5" height="2.5"/><rect x="420.15" y="86.75" width="2.5" height="2.5"/><rect x="422.15" y="88.75" width="2.5" height="2.5"/><rect x="424.35" y="88.95" width="2.5" height="2.5"/><rect x="426.95" y="91.15" width="2.5" height="2.5"/><rect x="430.15" y="93.15" width="2.5" height="2.5"/><rect x="417.75" y="87.15" width="2.5" height="2.5"/><rect x="415.35" y="85.15" width="2.5" height="2.5"/><rect x="412.75" y="83.65" width="2.5" height="2.5"/><rect x="390.95" y="64.35" width="2.5" height="2.5"/><rect x="391.95" y="67.55" width="2.5" height="2.5"/><rect x="379.15" y="76.35" width="2.5" height="2.5"/><rect x="400.35" y="72.25" width="2.5" height="2.5"/><rect x="391.05" y="72.95" width="2.5" height="2.5"/><rect x="389.25" y="75.15" width="2.5" height="2.5"/><rect x="385.65" y="73.75" width="2.5" height="2.5"/><rect x="399.55" y="80.15" width="2.5" height="2.5"/><rect x="397.25" y="81.35" width="2.5" height="2.5"/><rect x="394.05" y="81.25" width="2.5" height="2.5"/><rect x="390.65" y="81.15" width="2.5" height="2.5"/><rect x="396.75" y="84.55" width="2.5" height="2.5"/><rect x="394.05" y="85.95" width="2.5" height="2.5"/><rect x="389.35" y="85.05" width="2.5" height="2.5"/><rect x="387.55" y="87.35" width="2.5" height="2.5"/><rect x="391.65" y="88.25" width="2.5" height="2.5"/><rect x="384.75" y="90.15" width="2.5" height="2.5"/><rect x="382.45" y="92.45" width="2.5" height="2.5"/><rect x="393.55" y="92.45" width="2.5" height="2.5"/><rect x="378.25" y="94.25" width="2.5" height="2.5"/><rect x="375.55" y="93.35" width="2.5" height="2.5"/><rect x="390.25" y="83.35" width="2.5" height="2.5"/><rect x="403.85" y="83.25" width="2.5" height="2.5"/><rect x="401.85" y="85.25" width="2.5" height="2.5"/><rect x="404.05" y="90.25" width="2.5" height="2.5"/><rect x="401.95" y="90.25" width="2.5" height="2.5"/><rect x="404.05" y="93.85" width="2.5" height="2.5"/><rect x="403.85" y="96.65" width="2.5" height="2.5"/><rect x="398.85" y="98.05" width="2.5" height="2.5"/><rect x="387.55" y="102.35" width="2.5" height="2.5"/><rect x="376.45" y="102.35" width="2.5" height="2.5"/><rect x="365.85" y="96.25" width="2.5" height="2.5"/><rect x="365.85" y="98.95" width="2.5" height="2.5"/><rect x="364.35" y="89.25" width="2.5" height="2.5"/><rect x="358.85" y="101.15" width="2.5" height="2.5"/><rect x="359.25" y="103.35" width="2.5" height="2.5"/><rect x="355.65" y="100.45" width="2.5" height="2.5"/><rect x="351.95" y="93.55" width="2.5" height="2.5"/><rect x="350.15" y="94.95" width="2.5" height="2.5"/><rect x="348.75" y="97.25" width="2.5" height="2.5"/><rect x="350.45" y="100.15" width="2.5" height="2.5"/><rect x="346.95" y="100.65" width="2.5" height="2.5"/><rect x="345.55" y="101.85" width="2.5" height="2.5"/><rect x="322.05" y="101.95" width="2.5" height="2.5"/><rect x="310.95" y="96.45" width="2.5" height="2.5"/><rect x="307.25" y="96.85" width="2.5" height="2.5"/><rect x="295.55" y="90.45" width="2.5" height="2.5"/><rect x="398.25" y="82.55" width="2.5" height="2.5"/><rect x="395.45" y="83.15" width="2.5" height="2.5"/><rect x="392.65" y="84.75" width="2.5" height="2.5"/><rect x="390.45" y="86.75" width="2.5" height="2.5"/><rect x="388.45" y="88.75" width="2.5" height="2.5"/><rect x="386.25" y="88.95" width="2.5" height="2.5"/><rect x="383.65" y="91.15" width="2.5" height="2.5"/><rect x="380.45" y="93.15" width="2.5" height="2.5"/><rect x="392.85" y="87.15" width="2.5" height="2.5"/><rect x="395.25" y="85.15" width="2.5" height="2.5"/><rect x="397.85" y="83.65" width="2.5" height="2.5"/>
</g>
<g class="t">
<line x1="296.5" y1="111.9" x2="296.5" y2="109.2"/><line x1="296.5" y1="5" x2="296.5" y2="7.7"/>
<line x1="307.5" y1="111.9" x2="307.5" y2="109.6"/><line x1="307.5" y1="5" x2="307.5" y2="7.3"/>
<line x1="318.51" y1="111.9" x2="318.51" y2="109.6"/><line x1="318.51" y1="5" x2="318.51" y2="7.3"/>
<line x1="329.51" y1="111.9" x2="329.51" y2="109.6"/><line x1="329.51" y1="5" x2="329.51" y2="7.3"/>
<line x1="340.52" y1="111.9" x2="340.52" y2="109.6"/><line x1="340.52" y1="5" x2="340.52" y2="7.3"/>
<line x1="351.52" y1="111.9" x2="351.52" y2="109.2"/><line x1="351.52" y1="5" x2="351.52" y2="7.7"/>
<line x1="362.53" y1="111.9" x2="362.53" y2="109.6"/><line x1="362.53" y1="5" x2="362.53" y2="7.3"/>
<line x1="373.53" y1="111.9" x2="373.53" y2="109.6"/><line x1="373.53" y1="5" x2="373.53" y2="7.3"/>
<line x1="384.54" y1="111.9" x2="384.54" y2="109.6"/><line x1="384.54" y1="5" x2="384.54" y2="7.3"/>
<line x1="395.55" y1="111.9" x2="395.55" y2="109.6"/><line x1="395.55" y1="5" x2="395.55" y2="7.3"/>
<line x1="406.55" y1="111.9" x2="406.55" y2="109.2"/><line x1="406.55" y1="5" x2="406.55" y2="7.7"/>
<line x1="417.56" y1="111.9" x2="417.56" y2="109.6"/><line x1="417.56" y1="5" x2="417.56" y2="7.3"/>
<line x1="428.56" y1="111.9" x2="428.56" y2="109.6"/><line x1="428.56" y1="5" x2="428.56" y2="7.3"/>
<line x1="439.57" y1="111.9" x2="439.57" y2="109.6"/><line x1="439.57" y1="5" x2="439.57" y2="7.3"/>
<line x1="450.57" y1="111.9" x2="450.57" y2="109.6"/><line x1="450.57" y1="5" x2="450.57" y2="7.3"/>
<line x1="461.58" y1="111.9" x2="461.58" y2="109.2"/><line x1="461.58" y1="5" x2="461.58" y2="7.7"/>
<line x1="472.58" y1="111.9" x2="472.58" y2="109.6"/><line x1="472.58" y1="5" x2="472.58" y2="7.3"/>
<line x1="483.59" y1="111.9" x2="483.59" y2="109.6"/><line x1="483.59" y1="5" x2="483.59" y2="7.3"/>
<line x1="494.59" y1="111.9" x2="494.59" y2="109.6"/><line x1="494.59" y1="5" x2="494.59" y2="7.3"/>
<line x1="505.6" y1="111.9" x2="505.6" y2="109.6"/><line x1="505.6" y1="5" x2="505.6" y2="7.3"/>
<line x1="516.6" y1="111.9" x2="516.6" y2="109.2"/><line x1="516.6" y1="5" x2="516.6" y2="7.7"/>
<line x1="297" y1="112.15" x2="299.3" y2="112.15"/><line x1="516.8" y1="112.15" x2="514.5" y2="112.15"/>
<line x1="297" y1="109.58" x2="299.3" y2="109.58"/><line x1="516.8" y1="109.58" x2="514.5" y2="109.58"/>
<line x1="297" y1="107.4" x2="299.3" y2="107.4"/><line x1="516.8" y1="107.4" x2="514.5" y2="107.4"/>
<line x1="297" y1="105.51" x2="299.3" y2="105.51"/><line x1="516.8" y1="105.51" x2="514.5" y2="105.51"/>
<line x1="297" y1="103.85" x2="299.3" y2="103.85"/><line x1="516.8" y1="103.85" x2="514.5" y2="103.85"/>
<line x1="297" y1="102.36" x2="301.2" y2="102.36"/><line x1="516.8" y1="102.36" x2="512.6" y2="102.36"/>
<line x1="297" y1="92.57" x2="299.3" y2="92.57"/><line x1="516.8" y1="92.57" x2="514.5" y2="92.57"/>
<line x1="297" y1="86.84" x2="299.3" y2="86.84"/><line x1="516.8" y1="86.84" x2="514.5" y2="86.84"/>
<line x1="297" y1="82.78" x2="299.3" y2="82.78"/><line x1="516.8" y1="82.78" x2="514.5" y2="82.78"/>
<line x1="297" y1="79.63" x2="299.3" y2="79.63"/><line x1="516.8" y1="79.63" x2="514.5" y2="79.63"/>
<line x1="297" y1="77.05" x2="299.3" y2="77.05"/><line x1="516.8" y1="77.05" x2="514.5" y2="77.05"/>
<line x1="297" y1="74.88" x2="299.3" y2="74.88"/><line x1="516.8" y1="74.88" x2="514.5" y2="74.88"/>
<line x1="297" y1="72.99" x2="299.3" y2="72.99"/><line x1="516.8" y1="72.99" x2="514.5" y2="72.99"/>
<line x1="297" y1="71.33" x2="299.3" y2="71.33"/><line x1="516.8" y1="71.33" x2="514.5" y2="71.33"/>
<line x1="297" y1="69.84" x2="301.2" y2="69.84"/><line x1="516.8" y1="69.84" x2="512.6" y2="69.84"/>
<line x1="297" y1="60.05" x2="299.3" y2="60.05"/><line x1="516.8" y1="60.05" x2="514.5" y2="60.05"/>
<line x1="297" y1="54.32" x2="299.3" y2="54.32"/><line x1="516.8" y1="54.32" x2="514.5" y2="54.32"/>
<line x1="297" y1="50.26" x2="299.3" y2="50.26"/><line x1="516.8" y1="50.26" x2="514.5" y2="50.26"/>
<line x1="297" y1="47.11" x2="299.3" y2="47.11"/><line x1="516.8" y1="47.11" x2="514.5" y2="47.11"/>
<line x1="297" y1="44.53" x2="299.3" y2="44.53"/><line x1="516.8" y1="44.53" x2="514.5" y2="44.53"/>
<line x1="297" y1="42.36" x2="299.3" y2="42.36"/><line x1="516.8" y1="42.36" x2="514.5" y2="42.36"/>
<line x1="297" y1="40.47" x2="299.3" y2="40.47"/><line x1="516.8" y1="40.47" x2="514.5" y2="40.47"/>
<line x1="297" y1="38.81" x2="299.3" y2="38.81"/><line x1="516.8" y1="38.81" x2="514.5" y2="38.81"/>
<line x1="297" y1="37.32" x2="301.2" y2="37.32"/><line x1="516.8" y1="37.32" x2="512.6" y2="37.32"/>
<line x1="297" y1="27.53" x2="299.3" y2="27.53"/><line x1="516.8" y1="27.53" x2="514.5" y2="27.53"/>
<line x1="297" y1="21.8" x2="299.3" y2="21.8"/><line x1="516.8" y1="21.8" x2="514.5" y2="21.8"/>
<line x1="297" y1="17.74" x2="299.3" y2="17.74"/><line x1="516.8" y1="17.74" x2="514.5" y2="17.74"/>
<line x1="297" y1="14.59" x2="299.3" y2="14.59"/><line x1="516.8" y1="14.59" x2="514.5" y2="14.59"/>
<line x1="297" y1="12.01" x2="299.3" y2="12.01"/><line x1="516.8" y1="12.01" x2="514.5" y2="12.01"/>
<line x1="297" y1="9.84" x2="299.3" y2="9.84"/><line x1="516.8" y1="9.84" x2="514.5" y2="9.84"/>
<line x1="297" y1="7.95" x2="299.3" y2="7.95"/><line x1="516.8" y1="7.95" x2="514.5" y2="7.95"/>
<line x1="297" y1="6.29" x2="299.3" y2="6.29"/><line x1="516.8" y1="6.29" x2="514.5" y2="6.29"/>
</g>
<rect class="f" x="297" y="5" width="219.8" height="106.9"/>
<rect x="454.9" y="7.7" width="50.3" height="21.2" fill="#fff" stroke="#2a2a2a" stroke-width=".8"/>
<g class="c"><circle cx="464.9" cy="13.4" r="1.85"/></g>
<g class="s"><rect x="463.6" y="22.1" width="2.6" height="2.6"/></g>
<text class="lg" x="474.9" y="16" textLength="19" lengthAdjust="spacingAndGlyphs">DMD</text>
<text class="lg" x="474.9" y="26" textLength="29.4" lengthAdjust="spacingAndGlyphs">SPDMD</text>
<text class="tk" x="293.6" y="104.66" text-anchor="end">10<tspan class="sup" dy="-2.9">1</tspan></text>
<text class="tk" x="293.6" y="72.14" text-anchor="end">10<tspan class="sup" dy="-2.9">2</tspan></text>
<text class="tk" x="293.6" y="39.62" text-anchor="end">10<tspan class="sup" dy="-2.9">3</tspan></text>
<text class="tk" x="293.6" y="7.1" text-anchor="end">10<tspan class="sup" dy="-2.9">4</tspan></text>
<text class="tk" x="296.5" y="122.05" text-anchor="middle">-10</text>
<text class="tk" x="351.52" y="122.05" text-anchor="middle">-5</text>
<text class="tk" x="406.55" y="122.05" text-anchor="middle">0</text>
<text class="tk" x="461.58" y="122.05" text-anchor="middle">5</text>
<text class="tk" x="516.6" y="122.05" text-anchor="middle">10</text>
<text class="xl" x="397.55" y="133.35" textLength="18" lengthAdjust="spacing">f/f<tspan dy="1.4" font-size="5.6" font-style="normal">n</tspan></text>
<text class="yl" transform="translate(278.6,58.48) rotate(-90)"><tspan x="-7.3" dy="-0.8" font-size="11">|</tspan><tspan class="i" x="-3.5" dy="0.8" textLength="7" lengthAdjust="spacingAndGlyphs">α</tspan><tspan class="i" font-size="6" x="3.2" dy="1.6">i</tspan><tspan x="4.6" dy="-2.4" font-size="11">|</tspan></text>
<text class="cap" y="153.8"><tspan x="368.4" textLength="12.8" lengthAdjust="spacingAndGlyphs">(b)</tspan><tspan class="i" stroke-width=".05" x="388.1" textLength="9.8" lengthAdjust="spacingAndGlyphs">N</tspan><tspan class="i" stroke-width=".1" x="399.3" dy="1.9" font-size="8" textLength="4" lengthAdjust="spacingAndGlyphs">z</tspan><tspan x="407.9" dy="-1.9" textLength="9" lengthAdjust="spacingAndGlyphs">=</tspan><tspan x="421.6" textLength="14.4" lengthAdjust="spacingAndGlyphs">111</tspan></text>
</g>
<g id="panel-c">
<g class="g">
<line x1="80.53" y1="173.25" x2="80.53" y2="280.6"/>
<line x1="135.55" y1="173.25" x2="135.55" y2="280.6"/>
<line x1="190.57" y1="173.25" x2="190.57" y2="280.6"/>
<line x1="25.5" y1="270.81" x2="245.6" y2="270.81"/>
<line x1="25.5" y1="238.29" x2="245.6" y2="238.29"/>
<line x1="25.5" y1="205.77" x2="245.6" y2="205.77"/>
</g>
<g class="c">
<circle cx="135.6" cy="179.95" r="1.85"/><circle cx="135.6" cy="201.75" r="1.85"/><circle cx="136.8" cy="207.55" r="1.85"/><circle cx="138" cy="219.25" r="1.85"/><circle cx="154.2" cy="189.65" r="1.85"/><circle cx="173.6" cy="201.85" r="1.85"/><circle cx="229.7" cy="208.25" r="1.85"/><circle cx="224.9" cy="213.85" r="1.85"/><circle cx="220.5" cy="215.15" r="1.85"/><circle cx="226.7" cy="179.7" r="1.85"/><circle cx="170.1" cy="226.15" r="1.85"/><circle cx="178.3" cy="229.45" r="1.85"/><circle cx="186.8" cy="231.95" r="1.85"/><circle cx="155.2" cy="231.05" r="1.85"/><circle cx="161.7" cy="231.55" r="1.85"/><circle cx="166" cy="231.85" r="1.85"/><circle cx="169" cy="232.95" r="1.85"/><circle cx="168.4" cy="236.25" r="1.85"/><circle cx="162.4" cy="237.45" r="1.85"/><circle cx="160" cy="240.05" r="1.85"/><circle cx="178.7" cy="236.95" r="1.85"/><circle cx="180.6" cy="238.75" r="1.85"/><circle cx="149.9" cy="234.05" r="1.85"/><circle cx="148.9" cy="237.25" r="1.85"/><circle cx="141.5" cy="237.45" r="1.85"/><circle cx="140.6" cy="240.95" r="1.85"/><circle cx="143.9" cy="244.25" r="1.85"/><circle cx="145.2" cy="245.65" r="1.85"/><circle cx="141.5" cy="246.55" r="1.85"/><circle cx="149.9" cy="242.95" r="1.85"/><circle cx="151.8" cy="245.35" r="1.85"/><circle cx="154.5" cy="246.85" r="1.85"/><circle cx="152.4" cy="249.25" r="1.85"/><circle cx="165.5" cy="243.95" r="1.85"/><circle cx="161.9" cy="246.45" r="1.85"/><circle cx="160.9" cy="249.25" r="1.85"/><circle cx="167.9" cy="248.25" r="1.85"/><circle cx="173.9" cy="246.85" r="1.85"/><circle cx="163.7" cy="252.95" r="1.85"/><circle cx="156" cy="254.45" r="1.85"/><circle cx="157.3" cy="254.85" r="1.85"/><circle cx="158.6" cy="254.45" r="1.85"/><circle cx="147.1" cy="255.25" r="1.85"/><circle cx="146.2" cy="251.05" r="1.85"/><circle cx="142.9" cy="251.35" r="1.85"/><circle cx="137.4" cy="252.45" r="1.85"/><circle cx="139.2" cy="254.25" r="1.85"/><circle cx="136.7" cy="259.75" r="1.85"/><circle cx="138.9" cy="259.75" r="1.85"/><circle cx="142" cy="267.85" r="1.85"/><circle cx="153.5" cy="272.15" r="1.85"/><circle cx="164.6" cy="271.65" r="1.85"/><circle cx="162.8" cy="264.85" r="1.85"/><circle cx="175" cy="265.25" r="1.85"/><circle cx="177" cy="260.95" r="1.85"/><circle cx="170.6" cy="254.35" r="1.85"/><circle cx="173.2" cy="254.25" r="1.85"/><circle cx="176" cy="252.95" r="1.85"/><circle cx="152.2" cy="253.35" r="1.85"/><circle cx="199" cy="229.95" r="1.85"/><circle cx="199.2" cy="230.15" r="1.85"/><circle cx="215.5" cy="230.3" r="1.85"/><circle cx="217.1" cy="236.25" r="1.85"/><circle cx="202.5" cy="245.7" r="1.85"/><circle cx="208.2" cy="247.05" r="1.85"/><circle cx="204.3" cy="249.85" r="1.85"/><circle cx="204.6" cy="250.05" r="1.85"/><circle cx="218.3" cy="247.45" r="1.85"/><circle cx="216" cy="250.95" r="1.85"/><circle cx="183.7" cy="251.95" r="1.85"/><circle cx="199.7" cy="252.85" r="1.85"/><circle cx="206.6" cy="252.65" r="1.85"/><circle cx="202.9" cy="253.65" r="1.85"/><circle cx="196.5" cy="255.95" r="1.85"/><circle cx="178" cy="255.45" r="1.85"/><circle cx="187.2" cy="253.65" r="1.85"/><circle cx="181.7" cy="256.35" r="1.85"/><circle cx="185.4" cy="256.35" r="1.85"/><circle cx="190" cy="257.35" r="1.85"/><circle cx="193.7" cy="258.65" r="1.85"/><circle cx="180.8" cy="261.05" r="1.85"/><circle cx="185" cy="262.05" r="1.85"/><circle cx="189.1" cy="262.85" r="1.85"/><circle cx="192.8" cy="263.05" r="1.85"/><circle cx="186.8" cy="264.25" r="1.85"/><circle cx="191.7" cy="266.45" r="1.85"/><circle cx="195.4" cy="265.95" r="1.85"/><circle cx="191" cy="270.05" r="1.85"/><circle cx="194.7" cy="269.85" r="1.85"/><circle cx="182.25" cy="270.85" r="1.85"/><circle cx="201.4" cy="262.45" r="1.85"/><circle cx="200.7" cy="267.55" r="1.85"/><circle cx="204.3" cy="257.35" r="1.85"/><circle cx="208.4" cy="257.15" r="1.85"/><circle cx="209.3" cy="257.65" r="1.85"/><circle cx="210.5" cy="258.45" r="1.85"/><circle cx="211.7" cy="259.15" r="1.85"/><circle cx="213.4" cy="256.05" r="1.85"/><circle cx="217.1" cy="259.15" r="1.85"/><circle cx="212.6" cy="266.15" r="1.85"/><circle cx="215.5" cy="265.65" r="1.85"/><circle cx="214" cy="269.75" r="1.85"/><circle cx="218.9" cy="268.05" r="1.85"/><circle cx="220.2" cy="259.85" r="1.85"/><circle cx="221.2" cy="264.05" r="1.85"/><circle cx="222.7" cy="228.75" r="1.85"/><circle cx="231.3" cy="228.15" r="1.85"/><circle cx="240.1" cy="232.35" r="1.85"/><circle cx="222.5" cy="233.65" r="1.85"/><circle cx="222.8" cy="233.85" r="1.85"/><circle cx="224.6" cy="239.85" r="1.85"/><circle cx="224.9" cy="240.05" r="1.85"/><circle cx="241.9" cy="238.35" r="1.85"/><circle cx="234.7" cy="243.2" r="1.85"/><circle cx="239.3" cy="244.55" r="1.85"/><circle cx="244.5" cy="246.45" r="1.85"/><circle cx="244.8" cy="246.85" r="1.85"/><circle cx="227.2" cy="251.75" r="1.85"/><circle cx="230.4" cy="252.45" r="1.85"/><circle cx="231.8" cy="255.25" r="1.85"/><circle cx="236.4" cy="250.65" r="1.85"/><circle cx="241.5" cy="250.15" r="1.85"/><circle cx="244.7" cy="249.65" r="1.85"/><circle cx="240.5" cy="257.05" r="1.85"/><circle cx="244.2" cy="256.65" r="1.85"/><circle cx="242.9" cy="259.75" r="1.85"/><circle cx="246" cy="259.95" r="1.85"/><circle cx="226.2" cy="261.15" r="1.85"/><circle cx="232.7" cy="259.35" r="1.85"/><circle cx="235.9" cy="260.35" r="1.85"/><circle cx="236.2" cy="260.55" r="1.85"/><circle cx="232.7" cy="263" r="1.85"/><circle cx="237.3" cy="263" r="1.85"/><circle cx="229.7" cy="264.45" r="1.85"/><circle cx="228.1" cy="266.15" r="1.85"/><circle cx="234.1" cy="266.7" r="1.85"/><circle cx="134.3" cy="207.55" r="1.85"/><circle cx="133.1" cy="219.25" r="1.85"/><circle cx="116.9" cy="189.65" r="1.85"/><circle cx="97.5" cy="201.85" r="1.85"/><circle cx="41.4" cy="208.25" r="1.85"/><circle cx="46.2" cy="213.85" r="1.85"/><circle cx="50.6" cy="215.15" r="1.85"/><circle cx="44.4" cy="179.7" r="1.85"/><circle cx="101" cy="226.15" r="1.85"/><circle cx="92.8" cy="229.45" r="1.85"/><circle cx="84.3" cy="231.95" r="1.85"/><circle cx="115.9" cy="231.05" r="1.85"/><circle cx="109.4" cy="231.55" r="1.85"/><circle cx="105.1" cy="231.85" r="1.85"/><circle cx="102.1" cy="232.95" r="1.85"/><circle cx="102.7" cy="236.25" r="1.85"/><circle cx="108.7" cy="237.45" r="1.85"/><circle cx="111.1" cy="240.05" r="1.85"/><circle cx="92.4" cy="236.95" r="1.85"/><circle cx="90.5" cy="238.75" r="1.85"/><circle cx="121.2" cy="234.05" r="1.85"/><circle cx="122.2" cy="237.25" r="1.85"/><circle cx="129.6" cy="237.45" r="1.85"/><circle cx="130.5" cy="240.95" r="1.85"/><circle cx="127.2" cy="244.25" r="1.85"/><circle cx="125.9" cy="245.65" r="1.85"/><circle cx="129.6" cy="246.55" r="1.85"/><circle cx="121.2" cy="242.95" r="1.85"/><circle cx="119.3" cy="245.35" r="1.85"/><circle cx="116.6" cy="246.85" r="1.85"/><circle cx="118.7" cy="249.25" r="1.85"/><circle cx="105.6" cy="243.95" r="1.85"/><circle cx="109.2" cy="246.45" r="1.85"/><circle cx="110.2" cy="249.25" r="1.85"/><circle cx="103.2" cy="248.25" r="1.85"/><circle cx="97.2" cy="246.85" r="1.85"/><circle cx="107.4" cy="252.95" r="1.85"/><circle cx="115.1" cy="254.45" r="1.85"/><circle cx="113.8" cy="254.85" r="1.85"/><circle cx="112.5" cy="254.45" r="1.85"/><circle cx="124" cy="255.25" r="1.85"/><circle cx="124.9" cy="251.05" r="1.85"/><circle cx="128.2" cy="251.35" r="1.85"/><circle cx="133.7" cy="252.45" r="1.85"/><circle cx="131.9" cy="254.25" r="1.85"/><circle cx="134.4" cy="259.75" r="1.85"/><circle cx="132.2" cy="259.75" r="1.85"/><circle cx="129.1" cy="267.85" r="1.85"/><circle cx="117.6" cy="272.15" r="1.85"/><circle cx="106.5" cy="271.65" r="1.85"/><circle cx="108.3" cy="264.85" r="1.85"/><circle cx="96.1" cy="265.25" r="1.85"/><circle cx="94.1" cy="260.95" r="1.85"/><circle cx="100.5" cy="254.35" r="1.85"/><circle cx="97.9" cy="254.25" r="1.85"/><circle cx="95.1" cy="252.95" r="1.85"/><circle cx="118.9" cy="253.35" r="1.85"/><circle cx="72.1" cy="229.95" r="1.85"/><circle cx="71.9" cy="230.15" r="1.85"/><circle cx="55.6" cy="230.3" r="1.85"/><circle cx="54" cy="236.25" r="1.85"/><circle cx="68.6" cy="245.7" r="1.85"/><circle cx="62.9" cy="247.05" r="1.85"/><circle cx="66.8" cy="249.85" r="1.85"/><circle cx="66.5" cy="250.05" r="1.85"/><circle cx="52.8" cy="247.45" r="1.85"/><circle cx="55.1" cy="250.95" r="1.85"/><circle cx="87.4" cy="251.95" r="1.85"/><circle cx="71.4" cy="252.85" r="1.85"/><circle cx="64.5" cy="252.65" r="1.85"/><circle cx="68.2" cy="253.65" r="1.85"/><circle cx="74.6" cy="255.95" r="1.85"/><circle cx="93.1" cy="255.45" r="1.85"/><circle cx="83.9" cy="253.65" r="1.85"/><circle cx="89.4" cy="256.35" r="1.85"/><circle cx="85.7" cy="256.35" r="1.85"/><circle cx="81.1" cy="257.35" r="1.85"/><circle cx="77.4" cy="258.65" r="1.85"/><circle cx="90.3" cy="261.05" r="1.85"/><circle cx="86.1" cy="262.05" r="1.85"/><circle cx="82" cy="262.85" r="1.85"/><circle cx="78.3" cy="263.05" r="1.85"/><circle cx="84.3" cy="264.25" r="1.85"/><circle cx="79.4" cy="266.45" r="1.85"/><circle cx="75.7" cy="265.95" r="1.85"/><circle cx="80.1" cy="270.05" r="1.85"/><circle cx="76.4" cy="269.85" r="1.85"/><circle cx="88.85" cy="270.85" r="1.85"/><circle cx="69.7" cy="262.45" r="1.85"/><circle cx="70.4" cy="267.55" r="1.85"/><circle cx="66.8" cy="257.35" r="1.85"/><circle cx="62.7" cy="257.15" r="1.85"/><circle cx="61.8" cy="257.65" r="1.85"/><circle cx="60.6" cy="258.45" r="1.85"/><circle cx="59.4" cy="259.15" r="1.85"/><circle cx="57.7" cy="256.05" r="1.85"/><circle cx="54" cy="259.15" r="1.85"/><circle cx="58.5" cy="266.15" r="1.85"/><circle cx="55.6" cy="265.65" r="1.85"/><circle cx="57.1" cy="269.75" r="1.85"/><circle cx="52.2" cy="268.05" r="1.85"/><circle cx="50.9" cy="259.85" r="1.85"/><circle cx="49.9" cy="264.05" r="1.85"/><circle cx="48.4" cy="228.75" r="1.85"/><circle cx="39.8" cy="228.15" r="1.85"/><circle cx="31" cy="232.35" r="1.85"/><circle cx="48.6" cy="233.65" r="1.85"/><circle cx="48.3" cy="233.85" r="1.85"/><circle cx="46.5" cy="239.85" r="1.85"/><circle cx="46.2" cy="240.05" r="1.85"/><circle cx="29.2" cy="238.35" r="1.85"/><circle cx="36.4" cy="243.2" r="1.85"/><circle cx="31.8" cy="244.55" r="1.85"/><circle cx="26.6" cy="246.45" r="1.85"/><circle cx="26.3" cy="246.85" r="1.85"/><circle cx="43.9" cy="251.75" r="1.85"/><circle cx="40.7" cy="252.45" r="1.85"/><circle cx="39.3" cy="255.25" r="1.85"/><circle cx="34.7" cy="250.65" r="1.85"/><circle cx="29.6" cy="250.15" r="1.85"/><circle cx="26.4" cy="249.65" r="1.85"/><circle cx="30.6" cy="257.05" r="1.85"/><circle cx="26.9" cy="256.65" r="1.85"/><circle cx="28.2" cy="259.75" r="1.85"/><circle cx="25.1" cy="259.95" r="1.85"/><circle cx="44.9" cy="261.15" r="1.85"/><circle cx="38.4" cy="259.35" r="1.85"/><circle cx="35.2" cy="260.35" r="1.85"/><circle cx="34.9" cy="260.55" r="1.85"/><circle cx="38.4" cy="263" r="1.85"/><circle cx="33.8" cy="263" r="1.85"/><circle cx="41.4" cy="264.45" r="1.85"/><circle cx="43" cy="266.15" r="1.85"/><circle cx="37" cy="266.7" r="1.85"/>
</g>
<g class="s">
<rect x="134.35" y="200.5" width="2.5" height="2.5"/><rect x="134.35" y="250.6" width="2.5" height="2.5"/><rect x="134.35" y="258.4" width="2.5" height="2.5"/><rect x="148.65" y="233.2" width="2.5" height="2.5"/><rect x="147.65" y="236" width="2.5" height="2.5"/><rect x="161.05" y="240.6" width="2.5" height="2.5"/><rect x="148.6" y="241.1" width="2.5" height="2.5"/><rect x="150.95" y="242.9" width="2.5" height="2.5"/><rect x="140.25" y="242.9" width="2.5" height="2.5"/><rect x="185.55" y="243.6" width="2.5" height="2.5"/><rect x="140.75" y="248.4" width="2.5" height="2.5"/><rect x="143.55" y="248.9" width="2.5" height="2.5"/><rect x="142.6" y="252.4" width="2.5" height="2.5"/><rect x="146.25" y="254.3" width="2.5" height="2.5"/><rect x="149.95" y="254.3" width="2.5" height="2.5"/><rect x="152.75" y="257.5" width="2.5" height="2.5"/><rect x="155.55" y="258.9" width="2.5" height="2.5"/><rect x="156.45" y="261.7" width="2.5" height="2.5"/><rect x="159.25" y="254.3" width="2.5" height="2.5"/><rect x="145.85" y="260.75" width="2.5" height="2.5"/><rect x="135.65" y="265.4" width="2.5" height="2.5"/><rect x="140.75" y="266.3" width="2.5" height="2.5"/><rect x="151.85" y="270.9" width="2.5" height="2.5"/><rect x="162.95" y="270.9" width="2.5" height="2.5"/><rect x="161.55" y="263.5" width="2.5" height="2.5"/><rect x="162.95" y="259.8" width="2.5" height="2.5"/><rect x="165.25" y="262.6" width="2.5" height="2.5"/><rect x="167.55" y="262.6" width="2.5" height="2.5"/><rect x="166.65" y="265.4" width="2.5" height="2.5"/><rect x="161.55" y="268.1" width="2.5" height="2.5"/><rect x="165.25" y="268.1" width="2.5" height="2.5"/><rect x="169.35" y="268.6" width="2.5" height="2.5"/><rect x="172.15" y="267.7" width="2.5" height="2.5"/><rect x="174.45" y="267.2" width="2.5" height="2.5"/><rect x="169.35" y="270.45" width="2.5" height="2.5"/><rect x="173.95" y="263.5" width="2.5" height="2.5"/><rect x="172.15" y="258.9" width="2.5" height="2.5"/><rect x="174.95" y="258" width="2.5" height="2.5"/><rect x="137.95" y="258.4" width="2.5" height="2.5"/><rect x="137.55" y="260.75" width="2.5" height="2.5"/><rect x="137.95" y="252.4" width="2.5" height="2.5"/><rect x="137.05" y="251.7" width="2.5" height="2.5"/><rect x="135.95" y="255.2" width="2.5" height="2.5"/><rect x="144.75" y="251.2" width="2.5" height="2.5"/><rect x="147.75" y="252.8" width="2.5" height="2.5"/><rect x="151.25" y="255.8" width="2.5" height="2.5"/><rect x="154.05" y="260" width="2.5" height="2.5"/><rect x="157.95" y="257.2" width="2.5" height="2.5"/><rect x="144.05" y="256.7" width="2.5" height="2.5"/><rect x="149.25" y="258.7" width="2.5" height="2.5"/><rect x="177.25" y="260.2" width="2.5" height="2.5"/><rect x="179.75" y="261.7" width="2.5" height="2.5"/><rect x="182.25" y="259.7" width="2.5" height="2.5"/><rect x="184.15" y="260.7" width="2.5" height="2.5"/><rect x="186.25" y="262.7" width="2.5" height="2.5"/><rect x="188.25" y="264.2" width="2.5" height="2.5"/><rect x="189.95" y="265.3" width="2.5" height="2.5"/><rect x="191.75" y="263.2" width="2.5" height="2.5"/><rect x="193.35" y="266.4" width="2.5" height="2.5"/><rect x="195.75" y="265.3" width="2.5" height="2.5"/><rect x="197.95" y="268.7" width="2.5" height="2.5"/><rect x="199.15" y="271.1" width="2.5" height="2.5"/><rect x="176.75" y="266.7" width="2.5" height="2.5"/><rect x="179.25" y="268.2" width="2.5" height="2.5"/><rect x="181.75" y="267" width="2.5" height="2.5"/><rect x="184.25" y="268" width="2.5" height="2.5"/><rect x="186.75" y="268.7" width="2.5" height="2.5"/><rect x="189.25" y="269.6" width="2.5" height="2.5"/><rect x="191.75" y="269.2" width="2.5" height="2.5"/><rect x="194.25" y="270.4" width="2.5" height="2.5"/><rect x="180.65" y="271.1" width="2.5" height="2.5"/><rect x="176.25" y="263.7" width="2.5" height="2.5"/><rect x="178.75" y="264.7" width="2.5" height="2.5"/><rect x="183.25" y="264.2" width="2.5" height="2.5"/><rect x="185.25" y="266" width="2.5" height="2.5"/><rect x="194.75" y="262.2" width="2.5" height="2.5"/><rect x="197.25" y="263.7" width="2.5" height="2.5"/><rect x="201.25" y="251.45" width="2.5" height="2.5"/><rect x="204.95" y="251.45" width="2.5" height="2.5"/><rect x="202.6" y="253.7" width="2.5" height="2.5"/><rect x="204.95" y="254.9" width="2.5" height="2.5"/><rect x="203.75" y="258.4" width="2.5" height="2.5"/><rect x="206.25" y="257.2" width="2.5" height="2.5"/><rect x="208.35" y="260.7" width="2.5" height="2.5"/><rect x="210.65" y="263" width="2.5" height="2.5"/><rect x="201.45" y="261.8" width="2.5" height="2.5"/><rect x="203.25" y="256.1" width="2.5" height="2.5"/><rect x="207.25" y="259.2" width="2.5" height="2.5"/><rect x="209.25" y="264.7" width="2.5" height="2.5"/><rect x="211.85" y="269.9" width="2.5" height="2.5"/><rect x="213.45" y="271.6" width="2.5" height="2.5"/><rect x="215.25" y="273.45" width="2.5" height="2.5"/><rect x="213.95" y="275.3" width="2.5" height="2.5"/><rect x="217.6" y="272.5" width="2.5" height="2.5"/><rect x="219.45" y="273.9" width="2.5" height="2.5"/><rect x="220.85" y="273" width="2.5" height="2.5"/><rect x="211.15" y="267.7" width="2.5" height="2.5"/><rect x="212.55" y="266.2" width="2.5" height="2.5"/><rect x="225.45" y="269.75" width="2.5" height="2.5"/><rect x="224.95" y="273.9" width="2.5" height="2.5"/><rect x="227.25" y="273.45" width="2.5" height="2.5"/><rect x="228.25" y="274.8" width="2.5" height="2.5"/><rect x="226.85" y="276.2" width="2.5" height="2.5"/><rect x="231.45" y="269.75" width="2.5" height="2.5"/><rect x="233.25" y="270.2" width="2.5" height="2.5"/><rect x="231.95" y="276.2" width="2.5" height="2.5"/><rect x="234.65" y="273.45" width="2.5" height="2.5"/><rect x="235.65" y="274.8" width="2.5" height="2.5"/><rect x="236.55" y="273" width="2.5" height="2.5"/><rect x="238.85" y="273.9" width="2.5" height="2.5"/><rect x="240.65" y="273" width="2.5" height="2.5"/><rect x="241.65" y="270.7" width="2.5" height="2.5"/><rect x="240.65" y="274.8" width="2.5" height="2.5"/><rect x="232.35" y="265.6" width="2.5" height="2.5"/><rect x="235.15" y="265.6" width="2.5" height="2.5"/><rect x="244.75" y="258.2" width="2.5" height="2.5"/><rect x="242.95" y="271.7" width="2.5" height="2.5"/><rect x="222.75" y="272" width="2.5" height="2.5"/><rect x="229.55" y="271.7" width="2.5" height="2.5"/><rect x="237.75" y="271" width="2.5" height="2.5"/><rect x="141.55" y="250.4" width="2.5" height="2.5"/><rect x="143.95" y="251.8" width="2.5" height="2.5"/><rect x="145.15" y="253.4" width="2.5" height="2.5"/><rect x="147.35" y="255.4" width="2.5" height="2.5"/><rect x="148.75" y="253.6" width="2.5" height="2.5"/><rect x="151.55" y="256.6" width="2.5" height="2.5"/><rect x="154.15" y="258.4" width="2.5" height="2.5"/><rect x="157.35" y="260.2" width="2.5" height="2.5"/><rect x="158.35" y="258.8" width="2.5" height="2.5"/><rect x="160.15" y="255.8" width="2.5" height="2.5"/><rect x="154.95" y="256.4" width="2.5" height="2.5"/><rect x="152.15" y="253.2" width="2.5" height="2.5"/><rect x="143.15" y="254.6" width="2.5" height="2.5"/><rect x="139.75" y="250.2" width="2.5" height="2.5"/><rect x="171.75" y="261.2" width="2.5" height="2.5"/><rect x="173.35" y="259.8" width="2.5" height="2.5"/><rect x="175.15" y="261.6" width="2.5" height="2.5"/><rect x="177.95" y="262.8" width="2.5" height="2.5"/><rect x="180.95" y="263.4" width="2.5" height="2.5"/><rect x="182.75" y="262" width="2.5" height="2.5"/><rect x="184.75" y="263.8" width="2.5" height="2.5"/><rect x="187.35" y="266.4" width="2.5" height="2.5"/><rect x="189.55" y="267.4" width="2.5" height="2.5"/><rect x="191.15" y="266.8" width="2.5" height="2.5"/><rect x="192.95" y="264.4" width="2.5" height="2.5"/><rect x="195.15" y="267.8" width="2.5" height="2.5"/><rect x="196.75" y="269.8" width="2.5" height="2.5"/><rect x="178.15" y="265.8" width="2.5" height="2.5"/><rect x="181.15" y="265.4" width="2.5" height="2.5"/><rect x="185.95" y="267.2" width="2.5" height="2.5"/><rect x="175.35" y="268.8" width="2.5" height="2.5"/><rect x="200.35" y="265.8" width="2.5" height="2.5"/><rect x="202.15" y="259.6" width="2.5" height="2.5"/><rect x="205.75" y="262.6" width="2.5" height="2.5"/><rect x="119.95" y="233.2" width="2.5" height="2.5"/><rect x="120.95" y="236" width="2.5" height="2.5"/><rect x="107.55" y="240.6" width="2.5" height="2.5"/><rect x="120" y="241.1" width="2.5" height="2.5"/><rect x="117.65" y="242.9" width="2.5" height="2.5"/><rect x="128.35" y="242.9" width="2.5" height="2.5"/><rect x="83.05" y="243.6" width="2.5" height="2.5"/><rect x="127.85" y="248.4" width="2.5" height="2.5"/><rect x="125.05" y="248.9" width="2.5" height="2.5"/><rect x="126" y="252.4" width="2.5" height="2.5"/><rect x="122.35" y="254.3" width="2.5" height="2.5"/><rect x="118.65" y="254.3" width="2.5" height="2.5"/><rect x="115.85" y="257.5" width="2.5" height="2.5"/><rect x="113.05" y="258.9" width="2.5" height="2.5"/><rect x="112.15" y="261.7" width="2.5" height="2.5"/><rect x="109.35" y="254.3" width="2.5" height="2.5"/><rect x="122.75" y="260.75" width="2.5" height="2.5"/><rect x="132.95" y="265.4" width="2.5" height="2.5"/><rect x="127.85" y="266.3" width="2.5" height="2.5"/><rect x="116.75" y="270.9" width="2.5" height="2.5"/><rect x="105.65" y="270.9" width="2.5" height="2.5"/><rect x="107.05" y="263.5" width="2.5" height="2.5"/><rect x="105.65" y="259.8" width="2.5" height="2.5"/><rect x="103.35" y="262.6" width="2.5" height="2.5"/><rect x="101.05" y="262.6" width="2.5" height="2.5"/><rect x="101.95" y="265.4" width="2.5" height="2.5"/><rect x="107.05" y="268.1" width="2.5" height="2.5"/><rect x="103.35" y="268.1" width="2.5" height="2.5"/><rect x="99.25" y="268.6" width="2.5" height="2.5"/><rect x="96.45" y="267.7" width="2.5" height="2.5"/><rect x="94.15" y="267.2" width="2.5" height="2.5"/><rect x="99.25" y="270.45" width="2.5" height="2.5"/><rect x="94.65" y="263.5" width="2.5" height="2.5"/><rect x="96.45" y="258.9" width="2.5" height="2.5"/><rect x="93.65" y="258" width="2.5" height="2.5"/><rect x="130.65" y="258.4" width="2.5" height="2.5"/><rect x="131.05" y="260.75" width="2.5" height="2.5"/><rect x="130.65" y="252.4" width="2.5" height="2.5"/><rect x="131.55" y="251.7" width="2.5" height="2.5"/><rect x="132.65" y="255.2" width="2.5" height="2.5"/><rect x="123.85" y="251.2" width="2.5" height="2.5"/><rect x="120.85" y="252.8" width="2.5" height="2.5"/><rect x="117.35" y="255.8" width="2.5" height="2.5"/><rect x="114.55" y="260" width="2.5" height="2.5"/><rect x="110.65" y="257.2" width="2.5" height="2.5"/><rect x="124.55" y="256.7" width="2.5" height="2.5"/><rect x="119.35" y="258.7" width="2.5" height="2.5"/><rect x="91.35" y="260.2" width="2.5" height="2.5"/><rect x="88.85" y="261.7" width="2.5" height="2.5"/><rect x="86.35" y="259.7" width="2.5" height="2.5"/><rect x="84.45" y="260.7" width="2.5" height="2.5"/><rect x="82.35" y="262.7" width="2.5" height="2.5"/><rect x="80.35" y="264.2" width="2.5" height="2.5"/><rect x="78.65" y="265.3" width="2.5" height="2.5"/><rect x="76.85" y="263.2" width="2.5" height="2.5"/><rect x="75.25" y="266.4" width="2.5" height="2.5"/><rect x="72.85" y="265.3" width="2.5" height="2.5"/><rect x="70.65" y="268.7" width="2.5" height="2.5"/><rect x="69.45" y="271.1" width="2.5" height="2.5"/><rect x="91.85" y="266.7" width="2.5" height="2.5"/><rect x="89.35" y="268.2" width="2.5" height="2.5"/><rect x="86.85" y="267" width="2.5" height="2.5"/><rect x="84.35" y="268" width="2.5" height="2.5"/><rect x="81.85" y="268.7" width="2.5" height="2.5"/><rect x="79.35" y="269.6" width="2.5" height="2.5"/><rect x="76.85" y="269.2" width="2.5" height="2.5"/><rect x="74.35" y="270.4" width="2.5" height="2.5"/><rect x="87.95" y="271.1" width="2.5" height="2.5"/><rect x="92.35" y="263.7" width="2.5" height="2.5"/><rect x="89.85" y="264.7" width="2.5" height="2.5"/><rect x="85.35" y="264.2" width="2.5" height="2.5"/><rect x="83.35" y="266" width="2.5" height="2.5"/><rect x="73.85" y="262.2" width="2.5" height="2.5"/><rect x="71.35" y="263.7" width="2.5" height="2.5"/><rect x="67.35" y="251.45" width="2.5" height="2.5"/><rect x="63.65" y="251.45" width="2.5" height="2.5"/><rect x="66" y="253.7" width="2.5" height="2.5"/><rect x="63.65" y="254.9" width="2.5" height="2.5"/><rect x="64.85" y="258.4" width="2.5" height="2.5"/><rect x="62.35" y="257.2" width="2.5" height="2.5"/><rect x="60.25" y="260.7" width="2.5" height="2.5"/><rect x="57.95" y="263" width="2.5" height="2.5"/><rect x="67.15" y="261.8" width="2.5" height="2.5"/><rect x="65.35" y="256.1" width="2.5" height="2.5"/><rect x="61.35" y="259.2" width="2.5" height="2.5"/><rect x="59.35" y="264.7" width="2.5" height="2.5"/><rect x="56.75" y="269.9" width="2.5" height="2.5"/><rect x="55.15" y="271.6" width="2.5" height="2.5"/><rect x="53.35" y="273.45" width="2.5" height="2.5"/><rect x="54.65" y="275.3" width="2.5" height="2.5"/><rect x="51" y="272.5" width="2.5" height="2.5"/><rect x="49.15" y="273.9" width="2.5" height="2.5"/><rect x="47.75" y="273" width="2.5" height="2.5"/><rect x="57.45" y="267.7" width="2.5" height="2.5"/><rect x="56.05" y="266.2" width="2.5" height="2.5"/><rect x="43.15" y="269.75" width="2.5" height="2.5"/><rect x="43.65" y="273.9" width="2.5" height="2.5"/><rect x="41.35" y="273.45" width="2.5" height="2.5"/><rect x="40.35" y="274.8" width="2.5" height="2.5"/><rect x="41.75" y="276.2" width="2.5" height="2.5"/><rect x="37.15" y="269.75" width="2.5" height="2.5"/><rect x="35.35" y="270.2" width="2.5" height="2.5"/><rect x="36.65" y="276.2" width="2.5" height="2.5"/><rect x="33.95" y="273.45" width="2.5" height="2.5"/><rect x="32.95" y="274.8" width="2.5" height="2.5"/><rect x="32.05" y="273" width="2.5" height="2.5"/><rect x="29.75" y="273.9" width="2.5" height="2.5"/><rect x="27.95" y="273" width="2.5" height="2.5"/><rect x="26.95" y="270.7" width="2.5" height="2.5"/><rect x="27.95" y="274.8" width="2.5" height="2.5"/><rect x="36.25" y="265.6" width="2.5" height="2.5"/><rect x="33.45" y="265.6" width="2.5" height="2.5"/><rect x="23.85" y="258.2" width="2.5" height="2.5"/><rect x="25.65" y="271.7" width="2.5" height="2.5"/><rect x="45.85" y="272" width="2.5" height="2.5"/><rect x="39.05" y="271.7" width="2.5" height="2.5"/><rect x="30.85" y="271" width="2.5" height="2.5"/><rect x="127.05" y="250.4" width="2.5" height="2.5"/><rect x="124.65" y="251.8" width="2.5" height="2.5"/><rect x="123.45" y="253.4" width="2.5" height="2.5"/><rect x="121.25" y="255.4" width="2.5" height="2.5"/><rect x="119.85" y="253.6" width="2.5" height="2.5"/><rect x="117.05" y="256.6" width="2.5" height="2.5"/><rect x="114.45" y="258.4" width="2.5" height="2.5"/><rect x="111.25" y="260.2" width="2.5" height="2.5"/><rect x="110.25" y="258.8" width="2.5" height="2.5"/><rect x="108.45" y="255.8" width="2.5" height="2.5"/><rect x="113.65" y="256.4" width="2.5" height="2.5"/><rect x="116.45" y="253.2" width="2.5" height="2.5"/><rect x="125.45" y="254.6" width="2.5" height="2.5"/><rect x="128.85" y="250.2" width="2.5" height="2.5"/><rect x="96.85" y="261.2" width="2.5" height="2.5"/><rect x="95.25" y="259.8" width="2.5" height="2.5"/><rect x="93.45" y="261.6" width="2.5" height="2.5"/><rect x="90.65" y="262.8" width="2.5" height="2.5"/><rect x="87.65" y="263.4" width="2.5" height="2.5"/><rect x="85.85" y="262" width="2.5" height="2.5"/><rect x="83.85" y="263.8" width="2.5" height="2.5"/><rect x="81.25" y="266.4" width="2.5" height="2.5"/><rect x="79.05" y="267.4" width="2.5" height="2.5"/><rect x="77.45" y="266.8" width="2.5" height="2.5"/><rect x="75.65" y="264.4" width="2.5" height="2.5"/><rect x="73.45" y="267.8" width="2.5" height="2.5"/><rect x="71.85" y="269.8" width="2.5" height="2.5"/><rect x="90.45" y="265.8" width="2.5" height="2.5"/><rect x="87.45" y="265.4" width="2.5" height="2.5"/><rect x="82.65" y="267.2" width="2.5" height="2.5"/><rect x="93.25" y="268.8" width="2.5" height="2.5"/><rect x="68.25" y="265.8" width="2.5" height="2.5"/><rect x="66.45" y="259.6" width="2.5" height="2.5"/><rect x="62.85" y="262.6" width="2.5" height="2.5"/>
</g>
<g class="t">
<line x1="25.5" y1="280.35" x2="25.5" y2="277.65"/><line x1="25.5" y1="173.45" x2="25.5" y2="176.15"/>
<line x1="36.51" y1="280.35" x2="36.51" y2="278.05"/><line x1="36.51" y1="173.45" x2="36.51" y2="175.75"/>
<line x1="47.51" y1="280.35" x2="47.51" y2="278.05"/><line x1="47.51" y1="173.45" x2="47.51" y2="175.75"/>
<line x1="58.52" y1="280.35" x2="58.52" y2="278.05"/><line x1="58.52" y1="173.45" x2="58.52" y2="175.75"/>
<line x1="69.52" y1="280.35" x2="69.52" y2="278.05"/><line x1="69.52" y1="173.45" x2="69.52" y2="175.75"/>
<line x1="80.53" y1="280.35" x2="80.53" y2="277.65"/><line x1="80.53" y1="173.45" x2="80.53" y2="176.15"/>
<line x1="91.53" y1="280.35" x2="91.53" y2="278.05"/><line x1="91.53" y1="173.45" x2="91.53" y2="175.75"/>
<line x1="102.53" y1="280.35" x2="102.53" y2="278.05"/><line x1="102.53" y1="173.45" x2="102.53" y2="175.75"/>
<line x1="113.54" y1="280.35" x2="113.54" y2="278.05"/><line x1="113.54" y1="173.45" x2="113.54" y2="175.75"/>
<line x1="124.55" y1="280.35" x2="124.55" y2="278.05"/><line x1="124.55" y1="173.45" x2="124.55" y2="175.75"/>
<line x1="135.55" y1="280.35" x2="135.55" y2="277.65"/><line x1="135.55" y1="173.45" x2="135.55" y2="176.15"/>
<line x1="146.56" y1="280.35" x2="146.56" y2="278.05"/><line x1="146.56" y1="173.45" x2="146.56" y2="175.75"/>
<line x1="157.56" y1="280.35" x2="157.56" y2="278.05"/><line x1="157.56" y1="173.45" x2="157.56" y2="175.75"/>
<line x1="168.56" y1="280.35" x2="168.56" y2="278.05"/><line x1="168.56" y1="173.45" x2="168.56" y2="175.75"/>
<line x1="179.57" y1="280.35" x2="179.57" y2="278.05"/><line x1="179.57" y1="173.45" x2="179.57" y2="175.75"/>
<line x1="190.57" y1="280.35" x2="190.57" y2="277.65"/><line x1="190.57" y1="173.45" x2="190.57" y2="176.15"/>
<line x1="201.58" y1="280.35" x2="201.58" y2="278.05"/><line x1="201.58" y1="173.45" x2="201.58" y2="175.75"/>
<line x1="212.58" y1="280.35" x2="212.58" y2="278.05"/><line x1="212.58" y1="173.45" x2="212.58" y2="175.75"/>
<line x1="223.59" y1="280.35" x2="223.59" y2="278.05"/><line x1="223.59" y1="173.45" x2="223.59" y2="175.75"/>
<line x1="234.59" y1="280.35" x2="234.59" y2="278.05"/><line x1="234.59" y1="173.45" x2="234.59" y2="175.75"/>
<line x1="245.6" y1="280.35" x2="245.6" y2="277.65"/><line x1="245.6" y1="173.45" x2="245.6" y2="176.15"/>
<line x1="26" y1="280.6" x2="28.3" y2="280.6"/><line x1="245.8" y1="280.6" x2="243.5" y2="280.6"/>
<line x1="26" y1="278.03" x2="28.3" y2="278.03"/><line x1="245.8" y1="278.03" x2="243.5" y2="278.03"/>
<line x1="26" y1="275.85" x2="28.3" y2="275.85"/><line x1="245.8" y1="275.85" x2="243.5" y2="275.85"/>
<line x1="26" y1="273.96" x2="28.3" y2="273.96"/><line x1="245.8" y1="273.96" x2="243.5" y2="273.96"/>
<line x1="26" y1="272.3" x2="28.3" y2="272.3"/><line x1="245.8" y1="272.3" x2="243.5" y2="272.3"/>
<line x1="26" y1="270.81" x2="30.2" y2="270.81"/><line x1="245.8" y1="270.81" x2="241.6" y2="270.81"/>
<line x1="26" y1="261.02" x2="28.3" y2="261.02"/><line x1="245.8" y1="261.02" x2="243.5" y2="261.02"/>
<line x1="26" y1="255.29" x2="28.3" y2="255.29"/><line x1="245.8" y1="255.29" x2="243.5" y2="255.29"/>
<line x1="26" y1="251.23" x2="28.3" y2="251.23"/><line x1="245.8" y1="251.23" x2="243.5" y2="251.23"/>
<line x1="26" y1="248.08" x2="28.3" y2="248.08"/><line x1="245.8" y1="248.08" x2="243.5" y2="248.08"/>
<line x1="26" y1="245.5" x2="28.3" y2="245.5"/><line x1="245.8" y1="245.5" x2="243.5" y2="245.5"/>
<line x1="26" y1="243.33" x2="28.3" y2="243.33"/><line x1="245.8" y1="243.33" x2="243.5" y2="243.33"/>
<line x1="26" y1="241.44" x2="28.3" y2="241.44"/><line x1="245.8" y1="241.44" x2="243.5" y2="241.44"/>
<line x1="26" y1="239.78" x2="28.3" y2="239.78"/><line x1="245.8" y1="239.78" x2="243.5" y2="239.78"/>
<line x1="26" y1="238.29" x2="30.2" y2="238.29"/><line x1="245.8" y1="238.29" x2="241.6" y2="238.29"/>
<line x1="26" y1="228.5" x2="28.3" y2="228.5"/><line x1="245.8" y1="228.5" x2="243.5" y2="228.5"/>
<line x1="26" y1="222.77" x2="28.3" y2="222.77"/><line x1="245.8" y1="222.77" x2="243.5" y2="222.77"/>
<line x1="26" y1="218.71" x2="28.3" y2="218.71"/><line x1="245.8" y1="218.71" x2="243.5" y2="218.71"/>
<line x1="26" y1="215.56" x2="28.3" y2="215.56"/><line x1="245.8" y1="215.56" x2="243.5" y2="215.56"/>
<line x1="26" y1="212.98" x2="28.3" y2="212.98"/><line x1="245.8" y1="212.98" x2="243.5" y2="212.98"/>
<line x1="26" y1="210.81" x2="28.3" y2="210.81"/><line x1="245.8" y1="210.81" x2="243.5" y2="210.81"/>
<line x1="26" y1="208.92" x2="28.3" y2="208.92"/><line x1="245.8" y1="208.92" x2="243.5" y2="208.92"/>
<line x1="26" y1="207.26" x2="28.3" y2="207.26"/><line x1="245.8" y1="207.26" x2="243.5" y2="207.26"/>
<line x1="26" y1="205.77" x2="30.2" y2="205.77"/><line x1="245.8" y1="205.77" x2="241.6" y2="205.77"/>
<line x1="26" y1="195.98" x2="28.3" y2="195.98"/><line x1="245.8" y1="195.98" x2="243.5" y2="195.98"/>
<line x1="26" y1="190.25" x2="28.3" y2="190.25"/><line x1="245.8" y1="190.25" x2="243.5" y2="190.25"/>
<line x1="26" y1="186.19" x2="28.3" y2="186.19"/><line x1="245.8" y1="186.19" x2="243.5" y2="186.19"/>
<line x1="26" y1="183.04" x2="28.3" y2="183.04"/><line x1="245.8" y1="183.04" x2="243.5" y2="183.04"/>
<line x1="26" y1="180.46" x2="28.3" y2="180.46"/><line x1="245.8" y1="180.46" x2="243.5" y2="180.46"/>
<line x1="26" y1="178.29" x2="28.3" y2="178.29"/><line x1="245.8" y1="178.29" x2="243.5" y2="178.29"/>
<line x1="26" y1="176.4" x2="28.3" y2="176.4"/><line x1="245.8" y1="176.4" x2="243.5" y2="176.4"/>
<line x1="26" y1="174.74" x2="28.3" y2="174.74"/><line x1="245.8" y1="174.74" x2="243.5" y2="174.74"/>
</g>
<rect class="f" x="26" y="173.45" width="219.8" height="106.9"/>
<rect x="183.9" y="176.15" width="50.3" height="21.2" fill="#fff" stroke="#2a2a2a" stroke-width=".8"/>
<g class="c"><circle cx="193.9" cy="181.85" r="1.85"/></g>
<g class="s"><rect x="192.6" y="190.55" width="2.6" height="2.6"/></g>
<text class="lg" x="203.9" y="184.45" textLength="19" lengthAdjust="spacingAndGlyphs">DMD</text>
<text class="lg" x="203.9" y="194.45" textLength="29.4" lengthAdjust="spacingAndGlyphs">SPDMD</text>
<text class="tk" x="22.6" y="273.11" text-anchor="end">10<tspan class="sup" dy="-2.9">1</tspan></text>
<text class="tk" x="22.6" y="240.59" text-anchor="end">10<tspan class="sup" dy="-2.9">2</tspan></text>
<text class="tk" x="22.6" y="208.07" text-anchor="end">10<tspan class="sup" dy="-2.9">3</tspan></text>
<text class="tk" x="22.6" y="175.55" text-anchor="end">10<tspan class="sup" dy="-2.9">4</tspan></text>
<text class="tk" x="25.5" y="290.5" text-anchor="middle">-10</text>
<text class="tk" x="80.53" y="290.5" text-anchor="middle">-5</text>
<text class="tk" x="135.55" y="290.5" text-anchor="middle">0</text>
<text class="tk" x="190.57" y="290.5" text-anchor="middle">5</text>
<text class="tk" x="245.6" y="290.5" text-anchor="middle">10</text>
<text class="xl" x="126.55" y="301.8" textLength="18" lengthAdjust="spacing">f/f<tspan dy="1.4" font-size="5.6" font-style="normal">n</tspan></text>
<text class="yl" transform="translate(7.6,226.93) rotate(-90)"><tspan x="-7.3" dy="-0.8" font-size="11">|</tspan><tspan class="i" x="-3.5" dy="0.8" textLength="7" lengthAdjust="spacingAndGlyphs">α</tspan><tspan class="i" font-size="6" x="3.2" dy="1.6">i</tspan><tspan x="4.6" dy="-2.4" font-size="11">|</tspan></text>
<text class="cap" y="322.1"><tspan x="98.4" textLength="12.0" lengthAdjust="spacingAndGlyphs">(c)</tspan><tspan class="i" stroke-width=".05" x="118.1" textLength="9.8" lengthAdjust="spacingAndGlyphs">N</tspan><tspan class="i" stroke-width=".1" x="129.3" dy="1.9" font-size="8" textLength="4" lengthAdjust="spacingAndGlyphs">z</tspan><tspan x="135.8" dy="-1.9" textLength="9" lengthAdjust="spacingAndGlyphs">=</tspan><tspan x="148.3" textLength="17.6" lengthAdjust="spacingAndGlyphs">349</tspan></text>
</g>
<g id="panel-d">
<g class="g">
<line x1="351.52" y1="173.25" x2="351.52" y2="280.6"/>
<line x1="406.55" y1="173.25" x2="406.55" y2="280.6"/>
<line x1="461.58" y1="173.25" x2="461.58" y2="280.6"/>
<line x1="296.5" y1="270.81" x2="516.6" y2="270.81"/>
<line x1="296.5" y1="238.29" x2="516.6" y2="238.29"/>
<line x1="296.5" y1="205.77" x2="516.6" y2="205.77"/>
</g>
<g class="c">
<circle cx="406.6" cy="179.95" r="1.85"/><circle cx="406.6" cy="201.75" r="1.85"/><circle cx="407.8" cy="207.55" r="1.85"/><circle cx="409" cy="219.25" r="1.85"/><circle cx="425.2" cy="189.65" r="1.85"/><circle cx="444.6" cy="201.85" r="1.85"/><circle cx="500.7" cy="208.25" r="1.85"/><circle cx="495.9" cy="213.85" r="1.85"/><circle cx="491.5" cy="215.15" r="1.85"/><circle cx="497.7" cy="179.7" r="1.85"/><circle cx="441.1" cy="226.15" r="1.85"/><circle cx="449.3" cy="229.45" r="1.85"/><circle cx="457.8" cy="231.95" r="1.85"/><circle cx="426.2" cy="231.05" r="1.85"/><circle cx="432.7" cy="231.55" r="1.85"/><circle cx="437" cy="231.85" r="1.85"/><circle cx="440" cy="232.95" r="1.85"/><circle cx="439.4" cy="236.25" r="1.85"/><circle cx="433.4" cy="237.45" r="1.85"/><circle cx="431" cy="240.05" r="1.85"/><circle cx="449.7" cy="236.95" r="1.85"/><circle cx="451.6" cy="238.75" r="1.85"/><circle cx="420.9" cy="234.05" r="1.85"/><circle cx="419.9" cy="237.25" r="1.85"/><circle cx="412.5" cy="237.45" r="1.85"/><circle cx="411.6" cy="240.95" r="1.85"/><circle cx="414.9" cy="244.25" r="1.85"/><circle cx="416.2" cy="245.65" r="1.85"/><circle cx="412.5" cy="246.55" r="1.85"/><circle cx="420.9" cy="242.95" r="1.85"/><circle cx="422.8" cy="245.35" r="1.85"/><circle cx="425.5" cy="246.85" r="1.85"/><circle cx="423.4" cy="249.25" r="1.85"/><circle cx="436.5" cy="243.95" r="1.85"/><circle cx="432.9" cy="246.45" r="1.85"/><circle cx="431.9" cy="249.25" r="1.85"/><circle cx="438.9" cy="248.25" r="1.85"/><circle cx="444.9" cy="246.85" r="1.85"/><circle cx="434.7" cy="252.95" r="1.85"/><circle cx="427" cy="254.45" r="1.85"/><circle cx="428.3" cy="254.85" r="1.85"/><circle cx="429.6" cy="254.45" r="1.85"/><circle cx="418.1" cy="255.25" r="1.85"/><circle cx="417.2" cy="251.05" r="1.85"/><circle cx="413.9" cy="251.35" r="1.85"/><circle cx="408.4" cy="252.45" r="1.85"/><circle cx="410.2" cy="254.25" r="1.85"/><circle cx="407.7" cy="259.75" r="1.85"/><circle cx="409.9" cy="259.75" r="1.85"/><circle cx="413" cy="267.85" r="1.85"/><circle cx="424.5" cy="272.15" r="1.85"/><circle cx="435.6" cy="271.65" r="1.85"/><circle cx="433.8" cy="264.85" r="1.85"/><circle cx="446" cy="265.25" r="1.85"/><circle cx="448" cy="260.95" r="1.85"/><circle cx="441.6" cy="254.35" r="1.85"/><circle cx="444.2" cy="254.25" r="1.85"/><circle cx="447" cy="252.95" r="1.85"/><circle cx="423.2" cy="253.35" r="1.85"/><circle cx="470" cy="229.95" r="1.85"/><circle cx="470.2" cy="230.15" r="1.85"/><circle cx="486.5" cy="230.3" r="1.85"/><circle cx="488.1" cy="236.25" r="1.85"/><circle cx="473.5" cy="245.7" r="1.85"/><circle cx="479.2" cy="247.05" r="1.85"/><circle cx="475.3" cy="249.85" r="1.85"/><circle cx="475.6" cy="250.05" r="1.85"/><circle cx="489.3" cy="247.45" r="1.85"/><circle cx="487" cy="250.95" r="1.85"/><circle cx="454.7" cy="251.95" r="1.85"/><circle cx="470.7" cy="252.85" r="1.85"/><circle cx="477.6" cy="252.65" r="1.85"/><circle cx="473.9" cy="253.65" r="1.85"/><circle cx="467.5" cy="255.95" r="1.85"/><circle cx="449" cy="255.45" r="1.85"/><circle cx="458.2" cy="253.65" r="1.85"/><circle cx="452.7" cy="256.35" r="1.85"/><circle cx="456.4" cy="256.35" r="1.85"/><circle cx="461" cy="257.35" r="1.85"/><circle cx="464.7" cy="258.65" r="1.85"/><circle cx="451.8" cy="261.05" r="1.85"/><circle cx="456" cy="262.05" r="1.85"/><circle cx="460.1" cy="262.85" r="1.85"/><circle cx="463.8" cy="263.05" r="1.85"/><circle cx="457.8" cy="264.25" r="1.85"/><circle cx="462.7" cy="266.45" r="1.85"/><circle cx="466.4" cy="265.95" r="1.85"/><circle cx="462" cy="270.05" r="1.85"/><circle cx="465.7" cy="269.85" r="1.85"/><circle cx="453.25" cy="270.85" r="1.85"/><circle cx="472.4" cy="262.45" r="1.85"/><circle cx="471.7" cy="267.55" r="1.85"/><circle cx="475.3" cy="257.35" r="1.85"/><circle cx="479.4" cy="257.15" r="1.85"/><circle cx="480.3" cy="257.65" r="1.85"/><circle cx="481.5" cy="258.45" r="1.85"/><circle cx="482.7" cy="259.15" r="1.85"/><circle cx="484.4" cy="256.05" r="1.85"/><circle cx="488.1" cy="259.15" r="1.85"/><circle cx="483.6" cy="266.15" r="1.85"/><circle cx="486.5" cy="265.65" r="1.85"/><circle cx="485" cy="269.75" r="1.85"/><circle cx="489.9" cy="268.05" r="1.85"/><circle cx="491.2" cy="259.85" r="1.85"/><circle cx="492.2" cy="264.05" r="1.85"/><circle cx="493.7" cy="228.75" r="1.85"/><circle cx="502.3" cy="228.15" r="1.85"/><circle cx="511.1" cy="232.35" r="1.85"/><circle cx="493.5" cy="233.65" r="1.85"/><circle cx="493.8" cy="233.85" r="1.85"/><circle cx="495.6" cy="239.85" r="1.85"/><circle cx="495.9" cy="240.05" r="1.85"/><circle cx="512.9" cy="238.35" r="1.85"/><circle cx="505.7" cy="243.2" r="1.85"/><circle cx="510.3" cy="244.55" r="1.85"/><circle cx="515.5" cy="246.45" r="1.85"/><circle cx="515.8" cy="246.85" r="1.85"/><circle cx="498.2" cy="251.75" r="1.85"/><circle cx="501.4" cy="252.45" r="1.85"/><circle cx="502.8" cy="255.25" r="1.85"/><circle cx="507.4" cy="250.65" r="1.85"/><circle cx="512.5" cy="250.15" r="1.85"/><circle cx="515.7" cy="249.65" r="1.85"/><circle cx="511.5" cy="257.05" r="1.85"/><circle cx="515.2" cy="256.65" r="1.85"/><circle cx="513.9" cy="259.75" r="1.85"/><circle cx="517" cy="259.95" r="1.85"/><circle cx="497.2" cy="261.15" r="1.85"/><circle cx="503.7" cy="259.35" r="1.85"/><circle cx="506.9" cy="260.35" r="1.85"/><circle cx="507.2" cy="260.55" r="1.85"/><circle cx="503.7" cy="263" r="1.85"/><circle cx="508.3" cy="263" r="1.85"/><circle cx="500.7" cy="264.45" r="1.85"/><circle cx="499.1" cy="266.15" r="1.85"/><circle cx="505.1" cy="266.7" r="1.85"/><circle cx="405.3" cy="207.55" r="1.85"/><circle cx="404.1" cy="219.25" r="1.85"/><circle cx="387.9" cy="189.65" r="1.85"/><circle cx="368.5" cy="201.85" r="1.85"/><circle cx="312.4" cy="208.25" r="1.85"/><circle cx="317.2" cy="213.85" r="1.85"/><circle cx="321.6" cy="215.15" r="1.85"/><circle cx="315.4" cy="179.7" r="1.85"/><circle cx="372" cy="226.15" r="1.85"/><circle cx="363.8" cy="229.45" r="1.85"/><circle cx="355.3" cy="231.95" r="1.85"/><circle cx="386.9" cy="231.05" r="1.85"/><circle cx="380.4" cy="231.55" r="1.85"/><circle cx="376.1" cy="231.85" r="1.85"/><circle cx="373.1" cy="232.95" r="1.85"/><circle cx="373.7" cy="236.25" r="1.85"/><circle cx="379.7" cy="237.45" r="1.85"/><circle cx="382.1" cy="240.05" r="1.85"/><circle cx="363.4" cy="236.95" r="1.85"/><circle cx="361.5" cy="238.75" r="1.85"/><circle cx="392.2" cy="234.05" r="1.85"/><circle cx="393.2" cy="237.25" r="1.85"/><circle cx="400.6" cy="237.45" r="1.85"/><circle cx="401.5" cy="240.95" r="1.85"/><circle cx="398.2" cy="244.25" r="1.85"/><circle cx="396.9" cy="245.65" r="1.85"/><circle cx="400.6" cy="246.55" r="1.85"/><circle cx="392.2" cy="242.95" r="1.85"/><circle cx="390.3" cy="245.35" r="1.85"/><circle cx="387.6" cy="246.85" r="1.85"/><circle cx="389.7" cy="249.25" r="1.85"/><circle cx="376.6" cy="243.95" r="1.85"/><circle cx="380.2" cy="246.45" r="1.85"/><circle cx="381.2" cy="249.25" r="1.85"/><circle cx="374.2" cy="248.25" r="1.85"/><circle cx="368.2" cy="246.85" r="1.85"/><circle cx="378.4" cy="252.95" r="1.85"/><circle cx="386.1" cy="254.45" r="1.85"/><circle cx="384.8" cy="254.85" r="1.85"/><circle cx="383.5" cy="254.45" r="1.85"/><circle cx="395" cy="255.25" r="1.85"/><circle cx="395.9" cy="251.05" r="1.85"/><circle cx="399.2" cy="251.35" r="1.85"/><circle cx="404.7" cy="252.45" r="1.85"/><circle cx="402.9" cy="254.25" r="1.85"/><circle cx="405.4" cy="259.75" r="1.85"/><circle cx="403.2" cy="259.75" r="1.85"/><circle cx="400.1" cy="267.85" r="1.85"/><circle cx="388.6" cy="272.15" r="1.85"/><circle cx="377.5" cy="271.65" r="1.85"/><circle cx="379.3" cy="264.85" r="1.85"/><circle cx="367.1" cy="265.25" r="1.85"/><circle cx="365.1" cy="260.95" r="1.85"/><circle cx="371.5" cy="254.35" r="1.85"/><circle cx="368.9" cy="254.25" r="1.85"/><circle cx="366.1" cy="252.95" r="1.85"/><circle cx="389.9" cy="253.35" r="1.85"/><circle cx="343.1" cy="229.95" r="1.85"/><circle cx="342.9" cy="230.15" r="1.85"/><circle cx="326.6" cy="230.3" r="1.85"/><circle cx="325" cy="236.25" r="1.85"/><circle cx="339.6" cy="245.7" r="1.85"/><circle cx="333.9" cy="247.05" r="1.85"/><circle cx="337.8" cy="249.85" r="1.85"/><circle cx="337.5" cy="250.05" r="1.85"/><circle cx="323.8" cy="247.45" r="1.85"/><circle cx="326.1" cy="250.95" r="1.85"/><circle cx="358.4" cy="251.95" r="1.85"/><circle cx="342.4" cy="252.85" r="1.85"/><circle cx="335.5" cy="252.65" r="1.85"/><circle cx="339.2" cy="253.65" r="1.85"/><circle cx="345.6" cy="255.95" r="1.85"/><circle cx="364.1" cy="255.45" r="1.85"/><circle cx="354.9" cy="253.65" r="1.85"/><circle cx="360.4" cy="256.35" r="1.85"/><circle cx="356.7" cy="256.35" r="1.85"/><circle cx="352.1" cy="257.35" r="1.85"/><circle cx="348.4" cy="258.65" r="1.85"/><circle cx="361.3" cy="261.05" r="1.85"/><circle cx="357.1" cy="262.05" r="1.85"/><circle cx="353" cy="262.85" r="1.85"/><circle cx="349.3" cy="263.05" r="1.85"/><circle cx="355.3" cy="264.25" r="1.85"/><circle cx="350.4" cy="266.45" r="1.85"/><circle cx="346.7" cy="265.95" r="1.85"/><circle cx="351.1" cy="270.05" r="1.85"/><circle cx="347.4" cy="269.85" r="1.85"/><circle cx="359.85" cy="270.85" r="1.85"/><circle cx="340.7" cy="262.45" r="1.85"/><circle cx="341.4" cy="267.55" r="1.85"/><circle cx="337.8" cy="257.35" r="1.85"/><circle cx="333.7" cy="257.15" r="1.85"/><circle cx="332.8" cy="257.65" r="1.85"/><circle cx="331.6" cy="258.45" r="1.85"/><circle cx="330.4" cy="259.15" r="1.85"/><circle cx="328.7" cy="256.05" r="1.85"/><circle cx="325" cy="259.15" r="1.85"/><circle cx="329.5" cy="266.15" r="1.85"/><circle cx="326.6" cy="265.65" r="1.85"/><circle cx="328.1" cy="269.75" r="1.85"/><circle cx="323.2" cy="268.05" r="1.85"/><circle cx="321.9" cy="259.85" r="1.85"/><circle cx="320.9" cy="264.05" r="1.85"/><circle cx="319.4" cy="228.75" r="1.85"/><circle cx="310.8" cy="228.15" r="1.85"/><circle cx="302" cy="232.35" r="1.85"/><circle cx="319.6" cy="233.65" r="1.85"/><circle cx="319.3" cy="233.85" r="1.85"/><circle cx="317.5" cy="239.85" r="1.85"/><circle cx="317.2" cy="240.05" r="1.85"/><circle cx="300.2" cy="238.35" r="1.85"/><circle cx="307.4" cy="243.2" r="1.85"/><circle cx="302.8" cy="244.55" r="1.85"/><circle cx="297.6" cy="246.45" r="1.85"/><circle cx="297.3" cy="246.85" r="1.85"/><circle cx="314.9" cy="251.75" r="1.85"/><circle cx="311.7" cy="252.45" r="1.85"/><circle cx="310.3" cy="255.25" r="1.85"/><circle cx="305.7" cy="250.65" r="1.85"/><circle cx="300.6" cy="250.15" r="1.85"/><circle cx="297.4" cy="249.65" r="1.85"/><circle cx="301.6" cy="257.05" r="1.85"/><circle cx="297.9" cy="256.65" r="1.85"/><circle cx="299.2" cy="259.75" r="1.85"/><circle cx="296.1" cy="259.95" r="1.85"/><circle cx="315.9" cy="261.15" r="1.85"/><circle cx="309.4" cy="259.35" r="1.85"/><circle cx="306.2" cy="260.35" r="1.85"/><circle cx="305.9" cy="260.55" r="1.85"/><circle cx="309.4" cy="263" r="1.85"/><circle cx="304.8" cy="263" r="1.85"/><circle cx="312.4" cy="264.45" r="1.85"/><circle cx="314" cy="266.15" r="1.85"/><circle cx="308" cy="266.7" r="1.85"/>
</g>
<g class="s">
<rect x="405.35" y="183.5" width="2.5" height="2.5"/><rect x="405.35" y="200.5" width="2.5" height="2.5"/><rect x="406.45" y="210.14" width="2.5" height="2.5"/><rect x="407.65" y="221.26" width="2.5" height="2.5"/><rect x="423.85" y="193.14" width="2.5" height="2.5"/><rect x="443.25" y="204.73" width="2.5" height="2.5"/><rect x="439.75" y="227.81" width="2.5" height="2.5"/><rect x="447.95" y="230.95" width="2.5" height="2.5"/><rect x="456.45" y="233.32" width="2.5" height="2.5"/><rect x="424.85" y="232.47" width="2.5" height="2.5"/><rect x="431.35" y="232.94" width="2.5" height="2.5"/><rect x="435.65" y="233.23" width="2.5" height="2.5"/><rect x="438.65" y="234.27" width="2.5" height="2.5"/><rect x="438.05" y="237.41" width="2.5" height="2.5"/><rect x="432.05" y="238.55" width="2.5" height="2.5"/><rect x="429.65" y="241.02" width="2.5" height="2.5"/><rect x="448.35" y="238.07" width="2.5" height="2.5"/><rect x="450.25" y="239.78" width="2.5" height="2.5"/><rect x="419.55" y="235.32" width="2.5" height="2.5"/><rect x="418.55" y="238.36" width="2.5" height="2.5"/><rect x="411.15" y="238.55" width="2.5" height="2.5"/><rect x="410.25" y="241.88" width="2.5" height="2.5"/><rect x="413.55" y="245.01" width="2.5" height="2.5"/><rect x="414.85" y="246.34" width="2.5" height="2.5"/><rect x="411.15" y="247.19" width="2.5" height="2.5"/><rect x="419.55" y="243.77" width="2.5" height="2.5"/><rect x="421.45" y="246.06" width="2.5" height="2.5"/><rect x="424.15" y="247.48" width="2.5" height="2.5"/><rect x="422.05" y="249.76" width="2.5" height="2.5"/><rect x="435.15" y="244.72" width="2.5" height="2.5"/><rect x="431.55" y="247.1" width="2.5" height="2.5"/><rect x="430.55" y="249.76" width="2.5" height="2.5"/><rect x="437.55" y="248.81" width="2.5" height="2.5"/><rect x="443.55" y="247.48" width="2.5" height="2.5"/><rect x="433.35" y="253.27" width="2.5" height="2.5"/><rect x="425.65" y="254.7" width="2.5" height="2.5"/><rect x="426.95" y="255.08" width="2.5" height="2.5"/><rect x="428.25" y="254.7" width="2.5" height="2.5"/><rect x="416.75" y="255.46" width="2.5" height="2.5"/><rect x="415.85" y="251.47" width="2.5" height="2.5"/><rect x="412.55" y="251.75" width="2.5" height="2.5"/><rect x="407.05" y="252.8" width="2.5" height="2.5"/><rect x="408.85" y="254.51" width="2.5" height="2.5"/><rect x="406.35" y="259.74" width="2.5" height="2.5"/><rect x="408.55" y="259.74" width="2.5" height="2.5"/><rect x="411.65" y="266.6" width="2.5" height="2.5"/><rect x="423.15" y="270.9" width="2.5" height="2.5"/><rect x="434.25" y="270.4" width="2.5" height="2.5"/><rect x="432.45" y="263.6" width="2.5" height="2.5"/><rect x="444.65" y="264" width="2.5" height="2.5"/><rect x="446.65" y="260.88" width="2.5" height="2.5"/><rect x="440.25" y="254.6" width="2.5" height="2.5"/><rect x="442.85" y="254.51" width="2.5" height="2.5"/><rect x="445.65" y="253.27" width="2.5" height="2.5"/><rect x="421.85" y="253.66" width="2.5" height="2.5"/><rect x="468.65" y="234.1" width="2.5" height="2.5"/><rect x="468.85" y="234.1" width="2.5" height="2.5"/><rect x="472.15" y="246.39" width="2.5" height="2.5"/><rect x="477.85" y="247.67" width="2.5" height="2.5"/><rect x="473.95" y="250.33" width="2.5" height="2.5"/><rect x="474.25" y="250.52" width="2.5" height="2.5"/><rect x="453.35" y="252.32" width="2.5" height="2.5"/><rect x="469.35" y="253.18" width="2.5" height="2.5"/><rect x="476.25" y="252.99" width="2.5" height="2.5"/><rect x="472.55" y="253.94" width="2.5" height="2.5"/><rect x="466.15" y="256.12" width="2.5" height="2.5"/><rect x="447.65" y="255.65" width="2.5" height="2.5"/><rect x="456.85" y="253.94" width="2.5" height="2.5"/><rect x="451.35" y="256.5" width="2.5" height="2.5"/><rect x="455.05" y="256.5" width="2.5" height="2.5"/><rect x="459.65" y="257.45" width="2.5" height="2.5"/><rect x="463.35" y="258.69" width="2.5" height="2.5"/><rect x="450.45" y="260.97" width="2.5" height="2.5"/><rect x="454.65" y="261.92" width="2.5" height="2.5"/><rect x="458.75" y="262.68" width="2.5" height="2.5"/><rect x="462.45" y="262.87" width="2.5" height="2.5"/><rect x="456.45" y="264.01" width="2.5" height="2.5"/><rect x="461.35" y="265.2" width="2.5" height="2.5"/><rect x="465.05" y="264.7" width="2.5" height="2.5"/><rect x="460.65" y="268.8" width="2.5" height="2.5"/><rect x="464.35" y="268.6" width="2.5" height="2.5"/><rect x="451.9" y="269.6" width="2.5" height="2.5"/><rect x="471.05" y="262.3" width="2.5" height="2.5"/><rect x="470.35" y="266.3" width="2.5" height="2.5"/><rect x="473.95" y="257.45" width="2.5" height="2.5"/><rect x="478.05" y="257.26" width="2.5" height="2.5"/><rect x="478.95" y="257.74" width="2.5" height="2.5"/><rect x="480.15" y="258.5" width="2.5" height="2.5"/><rect x="508.65" y="178.5" width="2.5" height="2.5"/><rect x="496.05" y="197.05" width="2.5" height="2.5"/><rect x="484.75" y="250" width="2.5" height="2.5"/><rect x="484.25" y="252.7" width="2.5" height="2.5"/><rect x="491.2" y="252.1" width="2.5" height="2.5"/><rect x="492.85" y="254.8" width="2.5" height="2.5"/><rect x="477.25" y="259.7" width="2.5" height="2.5"/><rect x="479.25" y="261.2" width="2.5" height="2.5"/><rect x="481.25" y="262.7" width="2.5" height="2.5"/><rect x="483.05" y="264.2" width="2.5" height="2.5"/><rect x="484.95" y="265.7" width="2.5" height="2.5"/><rect x="486.85" y="267.2" width="2.5" height="2.5"/><rect x="482.55" y="268.3" width="2.5" height="2.5"/><rect x="484.75" y="269.9" width="2.5" height="2.5"/><rect x="482.05" y="272.05" width="2.5" height="2.5"/><rect x="485.85" y="273.7" width="2.5" height="2.5"/><rect x="489.55" y="272.05" width="2.5" height="2.5"/><rect x="488.55" y="274.7" width="2.5" height="2.5"/><rect x="494.45" y="268.3" width="2.5" height="2.5"/><rect x="494.95" y="266.7" width="2.5" height="2.5"/><rect x="499.85" y="272.6" width="2.5" height="2.5"/><rect x="499.25" y="275.8" width="2.5" height="2.5"/><rect x="498.15" y="277.4" width="2.5" height="2.5"/><rect x="503.05" y="267.2" width="2.5" height="2.5"/><rect x="505.15" y="265.6" width="2.5" height="2.5"/><rect x="507.35" y="264" width="2.5" height="2.5"/><rect x="508.45" y="259.7" width="2.5" height="2.5"/><rect x="511.65" y="257.5" width="2.5" height="2.5"/><rect x="513.85" y="255.9" width="2.5" height="2.5"/><rect x="506.25" y="251.1" width="2.5" height="2.5"/><rect x="509.5" y="250" width="2.5" height="2.5"/><rect x="512.75" y="251.6" width="2.5" height="2.5"/><rect x="515.75" y="259.7" width="2.5" height="2.5"/><rect x="501.95" y="261.8" width="2.5" height="2.5"/><rect x="510.45" y="237.8" width="2.5" height="2.5"/><rect x="512.3" y="240.1" width="2.5" height="2.5"/><rect x="491.95" y="249.8" width="2.5" height="2.5"/><rect x="505.85" y="249.4" width="2.5" height="2.5"/><rect x="514.15" y="248.45" width="2.5" height="2.5"/><rect x="490.75" y="271.2" width="2.5" height="2.5"/><rect x="498.45" y="272.6" width="2.5" height="2.5"/><rect x="502.55" y="266.4" width="2.5" height="2.5"/><rect x="503.95" y="269.9" width="2.5" height="2.5"/><rect x="507.45" y="266.4" width="2.5" height="2.5"/><rect x="496.25" y="262.2" width="2.5" height="2.5"/><rect x="498.25" y="264.5" width="2.5" height="2.5"/><rect x="489.75" y="260.2" width="2.5" height="2.5"/><rect x="487.75" y="257.7" width="2.5" height="2.5"/><rect x="510.75" y="262.2" width="2.5" height="2.5"/><rect x="513.25" y="264.7" width="2.5" height="2.5"/><rect x="509.75" y="268.2" width="2.5" height="2.5"/><rect x="507.75" y="271.2" width="2.5" height="2.5"/><rect x="504.75" y="273.2" width="2.5" height="2.5"/><rect x="500.75" y="258.7" width="2.5" height="2.5"/><rect x="497.25" y="256.7" width="2.5" height="2.5"/><rect x="504.25" y="256.7" width="2.5" height="2.5"/><rect x="404.15" y="210.14" width="2.5" height="2.5"/><rect x="402.95" y="221.26" width="2.5" height="2.5"/><rect x="386.75" y="193.14" width="2.5" height="2.5"/><rect x="367.35" y="204.73" width="2.5" height="2.5"/><rect x="370.85" y="227.81" width="2.5" height="2.5"/><rect x="362.65" y="230.95" width="2.5" height="2.5"/><rect x="354.15" y="233.32" width="2.5" height="2.5"/><rect x="385.75" y="232.47" width="2.5" height="2.5"/><rect x="379.25" y="232.94" width="2.5" height="2.5"/><rect x="374.95" y="233.23" width="2.5" height="2.5"/><rect x="371.95" y="234.27" width="2.5" height="2.5"/><rect x="372.55" y="237.41" width="2.5" height="2.5"/><rect x="378.55" y="238.55" width="2.5" height="2.5"/><rect x="380.95" y="241.02" width="2.5" height="2.5"/><rect x="362.25" y="238.07" width="2.5" height="2.5"/><rect x="360.35" y="239.78" width="2.5" height="2.5"/><rect x="391.05" y="235.32" width="2.5" height="2.5"/><rect x="392.05" y="238.36" width="2.5" height="2.5"/><rect x="399.45" y="238.55" width="2.5" height="2.5"/><rect x="400.35" y="241.88" width="2.5" height="2.5"/><rect x="397.05" y="245.01" width="2.5" height="2.5"/><rect x="395.75" y="246.34" width="2.5" height="2.5"/><rect x="399.45" y="247.19" width="2.5" height="2.5"/><rect x="391.05" y="243.77" width="2.5" height="2.5"/><rect x="389.15" y="246.06" width="2.5" height="2.5"/><rect x="386.45" y="247.48" width="2.5" height="2.5"/><rect x="388.55" y="249.76" width="2.5" height="2.5"/><rect x="375.45" y="244.72" width="2.5" height="2.5"/><rect x="379.05" y="247.1" width="2.5" height="2.5"/><rect x="380.05" y="249.76" width="2.5" height="2.5"/><rect x="373.05" y="248.81" width="2.5" height="2.5"/><rect x="367.05" y="247.48" width="2.5" height="2.5"/><rect x="377.25" y="253.27" width="2.5" height="2.5"/><rect x="384.95" y="254.7" width="2.5" height="2.5"/><rect x="383.65" y="255.08" width="2.5" height="2.5"/><rect x="382.35" y="254.7" width="2.5" height="2.5"/><rect x="393.85" y="255.46" width="2.5" height="2.5"/><rect x="394.75" y="251.47" width="2.5" height="2.5"/><rect x="398.05" y="251.75" width="2.5" height="2.5"/><rect x="403.55" y="252.8" width="2.5" height="2.5"/><rect x="401.75" y="254.51" width="2.5" height="2.5"/><rect x="404.25" y="259.74" width="2.5" height="2.5"/><rect x="402.05" y="259.74" width="2.5" height="2.5"/><rect x="398.95" y="266.6" width="2.5" height="2.5"/><rect x="387.45" y="270.9" width="2.5" height="2.5"/><rect x="376.35" y="270.4" width="2.5" height="2.5"/><rect x="378.15" y="263.6" width="2.5" height="2.5"/><rect x="365.95" y="264" width="2.5" height="2.5"/><rect x="363.95" y="260.88" width="2.5" height="2.5"/><rect x="370.35" y="254.6" width="2.5" height="2.5"/><rect x="367.75" y="254.51" width="2.5" height="2.5"/><rect x="364.95" y="253.27" width="2.5" height="2.5"/><rect x="388.75" y="253.66" width="2.5" height="2.5"/><rect x="341.95" y="234.1" width="2.5" height="2.5"/><rect x="341.75" y="234.1" width="2.5" height="2.5"/><rect x="338.45" y="246.39" width="2.5" height="2.5"/><rect x="332.75" y="247.67" width="2.5" height="2.5"/><rect x="336.65" y="250.33" width="2.5" height="2.5"/><rect x="336.35" y="250.52" width="2.5" height="2.5"/><rect x="357.25" y="252.32" width="2.5" height="2.5"/><rect x="341.25" y="253.18" width="2.5" height="2.5"/><rect x="334.35" y="252.99" width="2.5" height="2.5"/><rect x="338.05" y="253.94" width="2.5" height="2.5"/><rect x="344.45" y="256.12" width="2.5" height="2.5"/><rect x="362.95" y="255.65" width="2.5" height="2.5"/><rect x="353.75" y="253.94" width="2.5" height="2.5"/><rect x="359.25" y="256.5" width="2.5" height="2.5"/><rect x="355.55" y="256.5" width="2.5" height="2.5"/><rect x="350.95" y="257.45" width="2.5" height="2.5"/><rect x="347.25" y="258.69" width="2.5" height="2.5"/><rect x="360.15" y="260.97" width="2.5" height="2.5"/><rect x="355.95" y="261.92" width="2.5" height="2.5"/><rect x="351.85" y="262.68" width="2.5" height="2.5"/><rect x="348.15" y="262.87" width="2.5" height="2.5"/><rect x="354.15" y="264.01" width="2.5" height="2.5"/><rect x="349.25" y="265.2" width="2.5" height="2.5"/><rect x="345.55" y="264.7" width="2.5" height="2.5"/><rect x="349.95" y="268.8" width="2.5" height="2.5"/><rect x="346.25" y="268.6" width="2.5" height="2.5"/><rect x="358.7" y="269.6" width="2.5" height="2.5"/><rect x="339.55" y="262.3" width="2.5" height="2.5"/><rect x="340.25" y="266.3" width="2.5" height="2.5"/><rect x="336.65" y="257.45" width="2.5" height="2.5"/><rect x="332.55" y="257.26" width="2.5" height="2.5"/><rect x="331.65" y="257.74" width="2.5" height="2.5"/><rect x="330.45" y="258.5" width="2.5" height="2.5"/><rect x="301.95" y="178.5" width="2.5" height="2.5"/><rect x="314.55" y="197.05" width="2.5" height="2.5"/><rect x="325.85" y="250" width="2.5" height="2.5"/><rect x="326.35" y="252.7" width="2.5" height="2.5"/><rect x="319.4" y="252.1" width="2.5" height="2.5"/><rect x="317.75" y="254.8" width="2.5" height="2.5"/><rect x="333.35" y="259.7" width="2.5" height="2.5"/><rect x="331.35" y="261.2" width="2.5" height="2.5"/><rect x="329.35" y="262.7" width="2.5" height="2.5"/><rect x="327.55" y="264.2" width="2.5" height="2.5"/><rect x="325.65" y="265.7" width="2.5" height="2.5"/><rect x="323.75" y="267.2" width="2.5" height="2.5"/><rect x="328.05" y="268.3" width="2.5" height="2.5"/><rect x="325.85" y="269.9" width="2.5" height="2.5"/><rect x="328.55" y="272.05" width="2.5" height="2.5"/><rect x="324.75" y="273.7" width="2.5" height="2.5"/><rect x="321.05" y="272.05" width="2.5" height="2.5"/><rect x="322.05" y="274.7" width="2.5" height="2.5"/><rect x="316.15" y="268.3" width="2.5" height="2.5"/><rect x="315.65" y="266.7" width="2.5" height="2.5"/><rect x="310.75" y="272.6" width="2.5" height="2.5"/><rect x="311.35" y="275.8" width="2.5" height="2.5"/><rect x="312.45" y="277.4" width="2.5" height="2.5"/><rect x="307.55" y="267.2" width="2.5" height="2.5"/><rect x="305.45" y="265.6" width="2.5" height="2.5"/><rect x="303.25" y="264" width="2.5" height="2.5"/><rect x="302.15" y="259.7" width="2.5" height="2.5"/><rect x="298.95" y="257.5" width="2.5" height="2.5"/><rect x="296.75" y="255.9" width="2.5" height="2.5"/><rect x="304.35" y="251.1" width="2.5" height="2.5"/><rect x="301.1" y="250" width="2.5" height="2.5"/><rect x="297.85" y="251.6" width="2.5" height="2.5"/><rect x="294.85" y="259.7" width="2.5" height="2.5"/><rect x="308.65" y="261.8" width="2.5" height="2.5"/><rect x="300.15" y="237.8" width="2.5" height="2.5"/><rect x="298.3" y="240.1" width="2.5" height="2.5"/><rect x="318.65" y="249.8" width="2.5" height="2.5"/><rect x="304.75" y="249.4" width="2.5" height="2.5"/><rect x="296.45" y="248.45" width="2.5" height="2.5"/><rect x="319.85" y="271.2" width="2.5" height="2.5"/><rect x="312.15" y="272.6" width="2.5" height="2.5"/><rect x="308.05" y="266.4" width="2.5" height="2.5"/><rect x="306.65" y="269.9" width="2.5" height="2.5"/><rect x="303.15" y="266.4" width="2.5" height="2.5"/><rect x="314.35" y="262.2" width="2.5" height="2.5"/><rect x="312.35" y="264.5" width="2.5" height="2.5"/><rect x="320.85" y="260.2" width="2.5" height="2.5"/><rect x="322.85" y="257.7" width="2.5" height="2.5"/><rect x="299.85" y="262.2" width="2.5" height="2.5"/><rect x="297.35" y="264.7" width="2.5" height="2.5"/><rect x="300.85" y="268.2" width="2.5" height="2.5"/><rect x="302.85" y="271.2" width="2.5" height="2.5"/><rect x="305.85" y="273.2" width="2.5" height="2.5"/><rect x="309.85" y="258.7" width="2.5" height="2.5"/><rect x="313.35" y="256.7" width="2.5" height="2.5"/><rect x="306.35" y="256.7" width="2.5" height="2.5"/>
</g>
<g class="t">
<line x1="296.5" y1="280.35" x2="296.5" y2="277.65"/><line x1="296.5" y1="173.45" x2="296.5" y2="176.15"/>
<line x1="307.5" y1="280.35" x2="307.5" y2="278.05"/><line x1="307.5" y1="173.45" x2="307.5" y2="175.75"/>
<line x1="318.51" y1="280.35" x2="318.51" y2="278.05"/><line x1="318.51" y1="173.45" x2="318.51" y2="175.75"/>
<line x1="329.51" y1="280.35" x2="329.51" y2="278.05"/><line x1="329.51" y1="173.45" x2="329.51" y2="175.75"/>
<line x1="340.52" y1="280.35" x2="340.52" y2="278.05"/><line x1="340.52" y1="173.45" x2="340.52" y2="175.75"/>
<line x1="351.52" y1="280.35" x2="351.52" y2="277.65"/><line x1="351.52" y1="173.45" x2="351.52" y2="176.15"/>
<line x1="362.53" y1="280.35" x2="362.53" y2="278.05"/><line x1="362.53" y1="173.45" x2="362.53" y2="175.75"/>
<line x1="373.53" y1="280.35" x2="373.53" y2="278.05"/><line x1="373.53" y1="173.45" x2="373.53" y2="175.75"/>
<line x1="384.54" y1="280.35" x2="384.54" y2="278.05"/><line x1="384.54" y1="173.45" x2="384.54" y2="175.75"/>
<line x1="395.55" y1="280.35" x2="395.55" y2="278.05"/><line x1="395.55" y1="173.45" x2="395.55" y2="175.75"/>
<line x1="406.55" y1="280.35" x2="406.55" y2="277.65"/><line x1="406.55" y1="173.45" x2="406.55" y2="176.15"/>
<line x1="417.56" y1="280.35" x2="417.56" y2="278.05"/><line x1="417.56" y1="173.45" x2="417.56" y2="175.75"/>
<line x1="428.56" y1="280.35" x2="428.56" y2="278.05"/><line x1="428.56" y1="173.45" x2="428.56" y2="175.75"/>
<line x1="439.57" y1="280.35" x2="439.57" y2="278.05"/><line x1="439.57" y1="173.45" x2="439.57" y2="175.75"/>
<line x1="450.57" y1="280.35" x2="450.57" y2="278.05"/><line x1="450.57" y1="173.45" x2="450.57" y2="175.75"/>
<line x1="461.58" y1="280.35" x2="461.58" y2="277.65"/><line x1="461.58" y1="173.45" x2="461.58" y2="176.15"/>
<line x1="472.58" y1="280.35" x2="472.58" y2="278.05"/><line x1="472.58" y1="173.45" x2="472.58" y2="175.75"/>
<line x1="483.59" y1="280.35" x2="483.59" y2="278.05"/><line x1="483.59" y1="173.45" x2="483.59" y2="175.75"/>
<line x1="494.59" y1="280.35" x2="494.59" y2="278.05"/><line x1="494.59" y1="173.45" x2="494.59" y2="175.75"/>
<line x1="505.6" y1="280.35" x2="505.6" y2="278.05"/><line x1="505.6" y1="173.45" x2="505.6" y2="175.75"/>
<line x1="516.6" y1="280.35" x2="516.6" y2="277.65"/><line x1="516.6" y1="173.45" x2="516.6" y2="176.15"/>
<line x1="297" y1="280.6" x2="299.3" y2="280.6"/><line x1="516.8" y1="280.6" x2="514.5" y2="280.6"/>
<line x1="297" y1="278.03" x2="299.3" y2="278.03"/><line x1="516.8" y1="278.03" x2="514.5" y2="278.03"/>
<line x1="297" y1="275.85" x2="299.3" y2="275.85"/><line x1="516.8" y1="275.85" x2="514.5" y2="275.85"/>
<line x1="297" y1="273.96" x2="299.3" y2="273.96"/><line x1="516.8" y1="273.96" x2="514.5" y2="273.96"/>
<line x1="297" y1="272.3" x2="299.3" y2="272.3"/><line x1="516.8" y1="272.3" x2="514.5" y2="272.3"/>
<line x1="297" y1="270.81" x2="301.2" y2="270.81"/><line x1="516.8" y1="270.81" x2="512.6" y2="270.81"/>
<line x1="297" y1="261.02" x2="299.3" y2="261.02"/><line x1="516.8" y1="261.02" x2="514.5" y2="261.02"/>
<line x1="297" y1="255.29" x2="299.3" y2="255.29"/><line x1="516.8" y1="255.29" x2="514.5" y2="255.29"/>
<line x1="297" y1="251.23" x2="299.3" y2="251.23"/><line x1="516.8" y1="251.23" x2="514.5" y2="251.23"/>
<line x1="297" y1="248.08" x2="299.3" y2="248.08"/><line x1="516.8" y1="248.08" x2="514.5" y2="248.08"/>
<line x1="297" y1="245.5" x2="299.3" y2="245.5"/><line x1="516.8" y1="245.5" x2="514.5" y2="245.5"/>
<line x1="297" y1="243.33" x2="299.3" y2="243.33"/><line x1="516.8" y1="243.33" x2="514.5" y2="243.33"/>
<line x1="297" y1="241.44" x2="299.3" y2="241.44"/><line x1="516.8" y1="241.44" x2="514.5" y2="241.44"/>
<line x1="297" y1="239.78" x2="299.3" y2="239.78"/><line x1="516.8" y1="239.78" x2="514.5" y2="239.78"/>
<line x1="297" y1="238.29" x2="301.2" y2="238.29"/><line x1="516.8" y1="238.29" x2="512.6" y2="238.29"/>
<line x1="297" y1="228.5" x2="299.3" y2="228.5"/><line x1="516.8" y1="228.5" x2="514.5" y2="228.5"/>
<line x1="297" y1="222.77" x2="299.3" y2="222.77"/><line x1="516.8" y1="222.77" x2="514.5" y2="222.77"/>
<line x1="297" y1="218.71" x2="299.3" y2="218.71"/><line x1="516.8" y1="218.71" x2="514.5" y2="218.71"/>
<line x1="297" y1="215.56" x2="299.3" y2="215.56"/><line x1="516.8" y1="215.56" x2="514.5" y2="215.56"/>
<line x1="297" y1="212.98" x2="299.3" y2="212.98"/><line x1="516.8" y1="212.98" x2="514.5" y2="212.98"/>
<line x1="297" y1="210.81" x2="299.3" y2="210.81"/><line x1="516.8" y1="210.81" x2="514.5" y2="210.81"/>
<line x1="297" y1="208.92" x2="299.3" y2="208.92"/><line x1="516.8" y1="208.92" x2="514.5" y2="208.92"/>
<line x1="297" y1="207.26" x2="299.3" y2="207.26"/><line x1="516.8" y1="207.26" x2="514.5" y2="207.26"/>
<line x1="297" y1="205.77" x2="301.2" y2="205.77"/><line x1="516.8" y1="205.77" x2="512.6" y2="205.77"/>
<line x1="297" y1="195.98" x2="299.3" y2="195.98"/><line x1="516.8" y1="195.98" x2="514.5" y2="195.98"/>
<line x1="297" y1="190.25" x2="299.3" y2="190.25"/><line x1="516.8" y1="190.25" x2="514.5" y2="190.25"/>
<line x1="297" y1="186.19" x2="299.3" y2="186.19"/><line x1="516.8" y1="186.19" x2="514.5" y2="186.19"/>
<line x1="297" y1="183.04" x2="299.3" y2="183.04"/><line x1="516.8" y1="183.04" x2="514.5" y2="183.04"/>
<line x1="297" y1="180.46" x2="299.3" y2="180.46"/><line x1="516.8" y1="180.46" x2="514.5" y2="180.46"/>
<line x1="297" y1="178.29" x2="299.3" y2="178.29"/><line x1="516.8" y1="178.29" x2="514.5" y2="178.29"/>
<line x1="297" y1="176.4" x2="299.3" y2="176.4"/><line x1="516.8" y1="176.4" x2="514.5" y2="176.4"/>
<line x1="297" y1="174.74" x2="299.3" y2="174.74"/><line x1="516.8" y1="174.74" x2="514.5" y2="174.74"/>
</g>
<rect class="f" x="297" y="173.45" width="219.8" height="106.9"/>
<rect x="454.9" y="176.15" width="50.3" height="21.2" fill="#fff" stroke="#2a2a2a" stroke-width=".8"/>
<g class="c"><circle cx="464.9" cy="181.85" r="1.85"/></g>
<g class="s"><rect x="463.6" y="190.55" width="2.6" height="2.6"/></g>
<text class="lg" x="474.9" y="184.45" textLength="19" lengthAdjust="spacingAndGlyphs">DMD</text>
<text class="lg" x="474.9" y="194.45" textLength="29.4" lengthAdjust="spacingAndGlyphs">SPDMD</text>
<text class="tk" x="293.6" y="273.11" text-anchor="end">10<tspan class="sup" dy="-2.9">1</tspan></text>
<text class="tk" x="293.6" y="240.59" text-anchor="end">10<tspan class="sup" dy="-2.9">2</tspan></text>
<text class="tk" x="293.6" y="208.07" text-anchor="end">10<tspan class="sup" dy="-2.9">3</tspan></text>
<text class="tk" x="293.6" y="175.55" text-anchor="end">10<tspan class="sup" dy="-2.9">4</tspan></text>
<text class="tk" x="296.5" y="290.5" text-anchor="middle">-10</text>
<text class="tk" x="351.52" y="290.5" text-anchor="middle">-5</text>
<text class="tk" x="406.55" y="290.5" text-anchor="middle">0</text>
<text class="tk" x="461.58" y="290.5" text-anchor="middle">5</text>
<text class="tk" x="516.6" y="290.5" text-anchor="middle">10</text>
<text class="xl" x="397.55" y="301.8" textLength="18" lengthAdjust="spacing">f/f<tspan dy="1.4" font-size="5.6" font-style="normal">n</tspan></text>
<text class="yl" transform="translate(278.6,226.93) rotate(-90)"><tspan x="-7.3" dy="-0.8" font-size="11">|</tspan><tspan class="i" x="-3.5" dy="0.8" textLength="7" lengthAdjust="spacingAndGlyphs">α</tspan><tspan class="i" font-size="6" x="3.2" dy="1.6">i</tspan><tspan x="4.6" dy="-2.4" font-size="11">|</tspan></text>
<text class="cap" y="322.1"><tspan x="368.4" textLength="13.6" lengthAdjust="spacingAndGlyphs">(d)</tspan><tspan class="i" stroke-width=".05" x="388.1" textLength="9.8" lengthAdjust="spacingAndGlyphs">N</tspan><tspan class="i" stroke-width=".1" x="399.3" dy="1.9" font-size="8" textLength="4" lengthAdjust="spacingAndGlyphs">z</tspan><tspan x="407.2" dy="-1.9" textLength="9" lengthAdjust="spacingAndGlyphs">=</tspan><tspan x="419.5" textLength="16.8" lengthAdjust="spacingAndGlyphs">937</tspan></text>
</g>
</svg></body></html>
